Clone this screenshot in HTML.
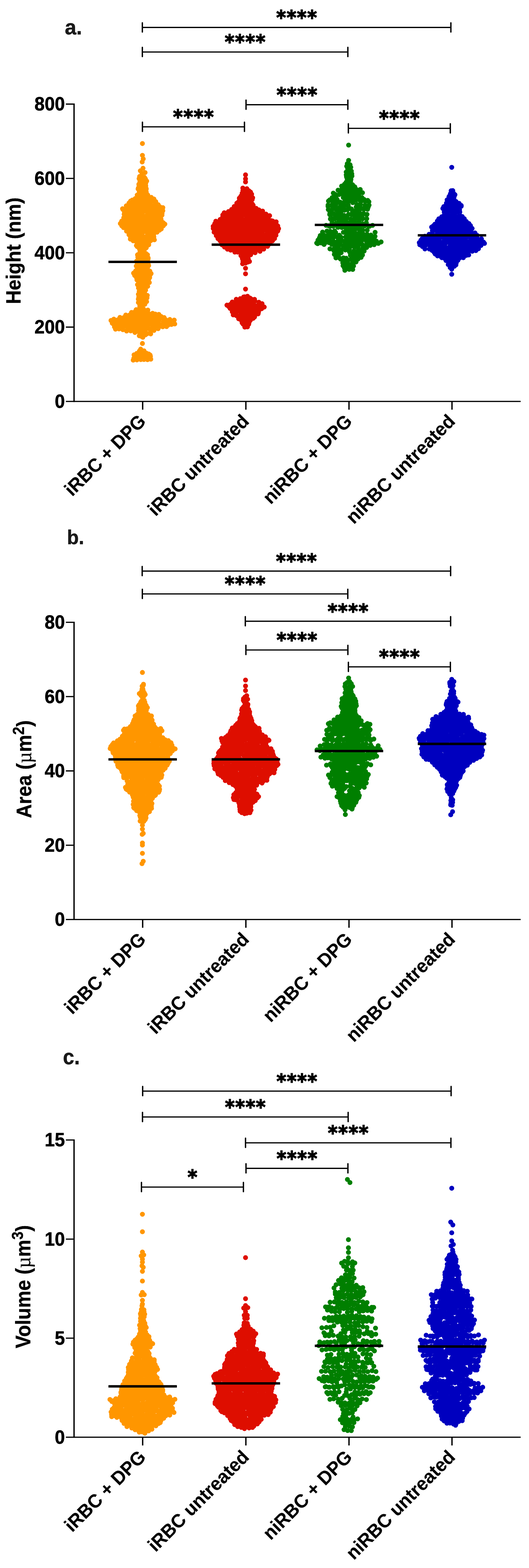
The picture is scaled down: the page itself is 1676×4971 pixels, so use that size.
<!DOCTYPE html><html><head><meta charset="utf-8"><title>Figure</title><style>html,body{margin:0;padding:0;background:#fff}svg{display:block}</style></head><body>
<svg width="1676" height="4971" viewBox="0 0 1676 4971">
<rect width="100%" height="100%" fill="#fff"/>
<path d="M451.2 455.1h0M451.2 492.5h0M453.8 503.8h0M450.5 513.5h0M453.1 533.4h0M444.7 541.5h0M459.6 547h0M449.9 549.5h0M451.2 1088.9h0M442.4 559.6h0M450.2 559.5h0M457.7 562.4h0M440.7 566.2h0M450.4 566.5h0M460.7 567.1h0M443.3 574.7h0M455.9 577.7h0M464.7 574h0M440 584h0M449.6 582.8h0M461.7 581.1h0M440.2 586.5h0M451.8 587.2h0M461.8 589h0M438.2 596.2h0M445.6 595.1h0M456.4 593.5h0M463.3 598h0M437.5 599.1h0M446 602.5h0M455.7 603.8h0M463.2 600.2h0M441.2 607.6h0M453.7 607.7h0M463.4 609h0M439.1 617.6h0M452.5 613.7h0M463.3 615.5h0M434.7 618.4h0M444 618.5h0M455.9 623.3h0M468.1 618.2h0M428.5 629.5h0M440.2 626.8h0M448.3 630.4h0M457.7 625.7h0M468.2 628h0M479.4 625.9h0M419.2 634.3h0M432.4 634h0M442.5 631h0M455.1 636.3h0M466.1 633.2h0M474.7 631.1h0M487.7 631.1h0M413.8 637.5h0M423.2 637.8h0M436.1 642.8h0M448.5 638.8h0M458.8 637.9h0M472.2 640.2h0M482.2 637.8h0M493.6 639.4h0M408.7 643.8h0M422.1 644.6h0M432 647.1h0M445.3 648.2h0M454 644.7h0M467.6 648.7h0M477.4 648.9h0M491.6 648.9h0M501.2 649h0M400.2 652.5h0M410.1 652h0M422.8 656.4h0M435.3 656.6h0M449.1 651.6h0M457.9 651.5h0M471.3 655.6h0M482.4 655.3h0M492.6 656.1h0M506 655.2h0M388.3 661.8h0M399.3 663h0M411.1 662.8h0M424 657.5h0M433.3 661.9h0M444.9 663h0M458.5 660.2h0M468 663h0M481.7 662.7h0M492.5 662h0M503.2 658.6h0M515.9 658.2h0M389.4 664h0M402.5 666.1h0M412.7 665.9h0M425.5 666.6h0M435.4 666h0M445.6 668.3h0M457 667.9h0M470 666.5h0M481.5 663.8h0M493.1 664.9h0M505.4 666.8h0M515.8 668.1h0M394.2 672.9h0M406.1 672.6h0M418.1 675.8h0M430.7 675.8h0M440.9 675.8h0M455.2 670.4h0M465.5 671.2h0M476 674.7h0M491.2 674.3h0M502.2 675.4h0M513.5 675.9h0M393.3 679.3h0M407.2 677.2h0M417 678.4h0M428 680.8h0M439.3 679h0M451.3 680.2h0M465.3 682.6h0M478.4 676.8h0M488.3 681.2h0M500.3 678.9h0M513.2 682.1h0M394.2 688.6h0M406 683.2h0M415.6 685.4h0M427.2 686.8h0M441.7 688.2h0M450.3 685.6h0M462.9 688.7h0M474.2 686.1h0M485.7 683.7h0M496.5 684.7h0M509.8 684.6h0M392 690.3h0M403.2 690.8h0M413.6 692.7h0M426.1 695.2h0M437.6 692h0M451 691.7h0M462.8 695.5h0M474 693.7h0M486.9 691.4h0M496.4 689.6h0M510 694h0M385.6 701.1h0M398.5 697.5h0M407.4 698.6h0M418.5 697.4h0M433.1 699.2h0M441.6 697.7h0M453.4 698.1h0M465.3 697h0M476.8 697.4h0M486.6 695.9h0M497.7 697.2h0M511 699.5h0M383 706.8h0M396.7 704.3h0M409.4 706.9h0M420.2 707.6h0M433.4 706.9h0M445.3 705.6h0M456.2 707.4h0M469.7 708h0M481.4 703.6h0M491 704.5h0M503.5 705.8h0M517.2 706.2h0M381.3 708.7h0M394.3 711.9h0M405 709.1h0M417.5 709.1h0M427.4 710h0M441 711.9h0M451.4 713.1h0M464.7 712.8h0M473.6 710.3h0M488.1 712.3h0M496.9 710.4h0M511.3 713h0M522.3 710.5h0M385.9 715.9h0M399.5 721.5h0M411.6 718.1h0M423 718.1h0M432.8 721.3h0M444.5 716.1h0M457.7 716h0M470.8 720.9h0M482.3 721h0M493.4 715.2h0M505.3 717.1h0M517.3 716.1h0M391.6 721.7h0M404.5 722.4h0M417.1 727.5h0M426.5 724.2h0M441.3 724h0M450.9 722h0M461.6 723.5h0M476.8 723.4h0M487.1 724.1h0M500.8 726.9h0M510.9 725.8h0M400.9 732.8h0M410.7 731.1h0M425.2 730h0M434 729h0M447.3 730.1h0M460 729.8h0M471.3 731.8h0M481.9 729.2h0M492.8 731.4h0M505.6 729.6h0M406.8 735.6h0M416.9 736.9h0M427.9 736.3h0M441.2 739.5h0M451.9 738.1h0M463.1 735.1h0M474.1 735.5h0M486.3 740.3h0M497.7 736.1h0M408.6 744h0M421.6 746.8h0M429 745.8h0M443.7 745h0M451.3 747.2h0M465.7 747.5h0M474.6 742.2h0M486.8 744.5h0M413.5 751.9h0M426.9 751.2h0M436.3 749.2h0M452.1 749.6h0M461.3 751.8h0M475.9 748.1h0M487.4 751.1h0M413 758.1h0M421.9 757.1h0M436.6 759.9h0M445.5 755.8h0M458.3 756.1h0M465.4 758.5h0M477.9 758.5h0M489.1 760.2h0M422.1 763.4h0M434 765.8h0M445.4 762h0M457.5 766h0M465.7 765.6h0M478 762.6h0M433.2 768.6h0M442.7 773.3h0M451.4 768.5h0M464.6 767.5h0M472.5 767.5h0M432.2 778.4h0M443.9 775.8h0M450.4 778.5h0M459.6 776.1h0M471.2 776.1h0M435 782h0M443.8 781h0M455.8 782.5h0M463.4 785.5h0M442.1 789.7h0M450 787.9h0M458.9 789h0M443.6 798.4h0M451 793.4h0M456.2 793.6h0M440.5 805.5h0M450.7 805.9h0M462.2 803.7h0M435.7 807.9h0M444.2 812.1h0M457.3 806.3h0M467.3 807.7h0M436.7 815.2h0M446.6 815.9h0M460.1 817.9h0M469.3 817.5h0M437.8 821.3h0M447.5 824.2h0M457.1 824h0M469.3 820.8h0M432.9 827.8h0M446.1 832.1h0M454.5 826.3h0M466.6 828.9h0M434.8 834.9h0M446.9 837h0M459.3 832.9h0M469.5 837.6h0M431.7 843.4h0M440.3 840.2h0M449.9 842.4h0M460.4 845.1h0M471 841.9h0M435.1 851.6h0M444.5 850.5h0M458.4 845.4h0M468.1 847.1h0M437.8 855.4h0M451.4 857.3h0M461.7 854.6h0M429.8 858.8h0M441.4 859.6h0M451.7 859.5h0M462.5 862.4h0M474.7 859.5h0M423.2 865.9h0M433.6 869.8h0M445.6 865.3h0M456.1 868.8h0M466 869.2h0M478.7 867.3h0M426.7 873.2h0M439.3 873.9h0M452.7 873.5h0M462.3 872.5h0M475.8 871.2h0M432.5 880.3h0M444.5 878.7h0M451.4 881.8h0M465.4 881.7h0M474.2 880.1h0M433.9 887.5h0M448 887.3h0M460 885.4h0M471.3 885h0M438 891h0M451.4 896.5h0M461.9 891.7h0M473.1 895.8h0M435.6 902.5h0M445.1 899.7h0M457.2 897.9h0M467.9 898.8h0M439.1 907.3h0M449.7 909.1h0M456.7 907.2h0M467.8 907.7h0M438.7 912.9h0M451.5 913h0M463.1 910.3h0M442.1 921.6h0M452.8 917.8h0M461.3 919.7h0M441 923.7h0M449.3 923.4h0M458 927.3h0M438.4 933h0M445.1 932.1h0M457.2 935.2h0M463.8 936.1h0M439.6 942.5h0M448.6 942.1h0M456.3 942.2h0M466.6 936.6h0M438.3 948.5h0M446.5 943.6h0M456.6 944h0M465.7 944.4h0M439.6 950.3h0M449.9 953.6h0M463 955h0M438.4 959.1h0M447.7 961.3h0M456 961.4h0M464.5 956.3h0M442.9 967.3h0M450 965.9h0M459 964.5h0M442.9 973.5h0M451 969h0M443.1 981.5h0M454.4 979h0M431.2 981.9h0M442.2 984.5h0M456 982.5h0M468.3 983.1h0M416.7 990.5h0M426.3 989.6h0M439.3 989.5h0M450.6 989h0M462.9 989.1h0M470.7 993.8h0M483.4 993.2h0M398.5 998.8h0M410.4 998.8h0M421.5 999.4h0M432.4 994.9h0M445.2 996.2h0M454.9 994.7h0M468.5 995.6h0M478.7 997.9h0M492.1 995.8h0M503.2 996.7h0M380 1006.2h0M392.6 1006.6h0M404.4 1006h0M414.9 1001.8h0M425.7 1003.3h0M439.4 1006.6h0M451 1004.7h0M461.5 1004.6h0M472.5 1007.4h0M484 1001.2h0M495.9 1006h0M510.3 1003.3h0M520.2 1006.9h0M360.7 1011.7h0M373.3 1014h0M384.2 1012.2h0M397.6 1012.4h0M408.3 1009h0M420.3 1013.6h0M430.2 1008.3h0M445.2 1008.6h0M453.4 1012.2h0M467.7 1012.4h0M477.2 1010h0M492.1 1013.4h0M500.9 1013.6h0M516.2 1009h0M524.7 1013.2h0M538.1 1012.9h0M351.7 1016h0M361.9 1019.1h0M374.1 1016.9h0M385.2 1016h0M399.7 1016.2h0M412.5 1019.7h0M422.9 1016.8h0M434 1016.4h0M446.8 1015.6h0M459.2 1019.5h0M468.2 1015.5h0M482.4 1014.2h0M493.1 1019.3h0M503.6 1016.4h0M518 1020.3h0M527.6 1018.7h0M540.2 1018.3h0M552 1014.7h0M355.7 1024.7h0M367.5 1023.2h0M382 1026.4h0M390.9 1022.4h0M406.8 1023.1h0M419.1 1023.6h0M430.1 1025.5h0M442.9 1022.8h0M453.3 1025h0M468 1023.5h0M480.5 1021.5h0M491.6 1022.2h0M502.9 1025.2h0M517.9 1021.7h0M527.8 1024h0M539.9 1021.9h0M553.6 1027h0M359.7 1027.8h0M371.5 1032.3h0M385.1 1028.4h0M396.9 1028.5h0M408.1 1029.7h0M422 1030.4h0M433.5 1028.1h0M445.7 1032h0M459.1 1030.9h0M470.7 1028.6h0M482.8 1032.2h0M494.9 1031.6h0M506.9 1029.2h0M519.1 1029.9h0M531.9 1031.2h0M543 1028.8h0M362.6 1036.3h0M375.1 1034.8h0M386.8 1036.2h0M397.9 1033.9h0M409.9 1038.7h0M423.3 1034.3h0M433.6 1038.3h0M445.2 1039h0M457 1039.8h0M467.6 1036.2h0M481.6 1040h0M491.7 1035.4h0M503.7 1036.4h0M515.6 1035.9h0M527.7 1035.4h0M365.9 1043.6h0M377.1 1042.7h0M389.3 1045.2h0M404 1043.2h0M415.3 1046.4h0M426.7 1045.5h0M440.9 1042.1h0M452.1 1045.6h0M463.6 1041.9h0M475.9 1042.9h0M487.5 1044.8h0M501 1042h0M401.1 1049.4h0M414.1 1049h0M427.6 1047h0M439.6 1051.7h0M449.3 1050.8h0M461.2 1052.8h0M476.2 1047.3h0M487.9 1047.6h0M427.5 1054.1h0M441.6 1054.2h0M454 1058.2h0M465.6 1058.3h0M477.4 1058.6h0M441.3 1064.5h0M450.8 1063.3h0M460.8 1061.4h0M448.2 1066.5h0M452.6 1069.2h0M445.7 1106.9h0M441.7 1112.9h0M449.2 1115.3h0M456.3 1112.3h0M433.1 1120.5h0M443.1 1120.3h0M452.8 1118.5h0M463.5 1119.5h0M471.1 1122.2h0M424.7 1125.1h0M436.3 1125.9h0M445.1 1124.2h0M454.8 1126.5h0M466.5 1128.2h0M475.4 1125.5h0M424.1 1135.7h0M435.2 1131.5h0M444.4 1133.2h0M456.1 1129.6h0M467 1132.9h0M476.6 1129.7h0M422.1 1141.8h0M433.7 1141h0M446 1139.9h0M456 1139.7h0M467.3 1140.2h0M477.7 1138.8h0" stroke="#ff9600" stroke-width="15.6" stroke-linecap="round" fill="none"/>
<path d="M777.9 554.2h0M777.9 567h0M777.9 576.7h0M777.9 850.6h0M777.9 868h0M777.9 916.6h0M769.3 596.3h0M776.9 600.3h0M782.3 598.4h0M769.5 604.2h0M778.4 604.6h0M788.9 605.3h0M767.2 612.7h0M774.2 614.3h0M785.2 612h0M793.8 609.1h0M763.1 621.9h0M774.4 616.2h0M786.4 616.5h0M797.2 615.7h0M758.3 628.3h0M767.2 622.9h0M777.4 623.6h0M790.9 622.4h0M800.5 627.1h0M758.4 629.1h0M769 631.5h0M780.4 634.8h0M789.6 628.6h0M798.9 632.8h0M755.6 639.8h0M764 638.2h0M773.2 638.8h0M784.4 636h0M794.3 640.2h0M750.2 644.3h0M762.1 647.7h0M776 643.5h0M785.5 646.1h0M799.6 646.9h0M746.8 653.5h0M758.3 650.8h0M770.4 652.5h0M780.3 653.3h0M790.1 649.8h0M802 650.8h0M742.1 654.8h0M755 660.2h0M765.5 660.1h0M778.1 660.5h0M787.8 658.1h0M801.2 659.4h0M811.5 660.6h0M733.9 664.1h0M745.1 665.9h0M759.8 661.6h0M772.2 662.6h0M783.6 666.8h0M795.7 664.9h0M806.7 662.2h0M820.3 665.6h0M723.6 670.9h0M734.3 674h0M747.2 671.7h0M760.9 671.4h0M771.2 667.7h0M782 673.2h0M795.8 669.3h0M809.1 673.7h0M821.1 673.8h0M832 669.2h0M710.4 674.6h0M720.6 679.7h0M734.2 680h0M744.7 676.6h0M756.9 675.7h0M770.7 680.3h0M783.2 677h0M793.2 680.5h0M805.4 675.7h0M818 679.9h0M831.9 679.2h0M842.6 678.7h0M705.9 681.5h0M719.3 684.9h0M729.8 685.5h0M741.4 682.2h0M753.8 681.6h0M766.6 685h0M778.1 681.8h0M790.5 682h0M806.5 686.3h0M815.6 681.2h0M831.1 684.6h0M841.6 685.9h0M854.1 683.7h0M705.8 687.4h0M718.7 688h0M731.3 689.7h0M740.5 692.5h0M753.2 690.2h0M765.2 687.8h0M779.9 692.9h0M790.6 690.2h0M801.1 688.4h0M813.5 693.5h0M827.7 688.9h0M839.6 691.8h0M850.1 689h0M697.5 695.8h0M708.5 699h0M722.5 696.4h0M736.5 697.3h0M745.9 698.6h0M760.6 694.1h0M770.6 696.8h0M783.8 697.5h0M798 697.3h0M808.4 698.3h0M821.7 693.9h0M835.8 699h0M848.5 693.7h0M859.5 699.5h0M683.7 701.3h0M697 701.1h0M707.1 700.1h0M719.7 703.4h0M730 705.4h0M744.9 704.7h0M755 700.4h0M768.9 703.3h0M779.4 703.5h0M789.4 701.5h0M802 701.7h0M816.5 700.7h0M827.9 700.2h0M839.5 703.4h0M851.9 705.7h0M863.9 700.8h0M875 703.3h0M680.3 709.2h0M691.1 712.1h0M703.3 711.4h0M715.6 712.6h0M728.7 712h0M741.4 712.7h0M754.7 708.1h0M765.1 712.9h0M779.2 711.8h0M791.6 709.9h0M804.2 708.2h0M814.3 708.9h0M826.9 709.4h0M839 707.5h0M853.1 712.6h0M864 712.3h0M875.6 712.3h0M675.5 717.5h0M686.6 719.1h0M700 716.4h0M711.3 714.9h0M722.8 713.8h0M736 716.4h0M746.7 716.5h0M758.3 713.9h0M770.9 714.9h0M782.7 716.6h0M797.1 716.8h0M808.4 717.7h0M819.7 717h0M831.7 714.6h0M842.8 715.5h0M856.3 715.3h0M869.4 716.7h0M880 716.2h0M675.7 724.6h0M686.5 725.2h0M699.8 722.1h0M712 720.3h0M723.3 724.4h0M735.2 721.8h0M749.4 725.1h0M762.2 724.4h0M774 722.6h0M786.4 725.5h0M795.9 719.6h0M810.6 722.8h0M823.6 722.3h0M835.1 723.5h0M845.6 722.5h0M859.2 722.1h0M870.7 721.6h0M882.6 724.7h0M679.7 727.2h0M691.4 729.8h0M704.9 732h0M716.4 731.5h0M731.4 728.8h0M743.6 726.4h0M754.7 732h0M768 732.5h0M779.4 730.5h0M791.3 729.9h0M803.7 730.4h0M816.8 728.5h0M828.8 729.8h0M843.1 729.2h0M853.8 732.5h0M865.9 731.4h0M879 727.2h0M678.4 735.9h0M688.7 737h0M703.4 738.3h0M713.7 734.4h0M725.9 733.8h0M736.5 736.5h0M749 736.7h0M759.6 737.7h0M772.5 732.6h0M784.4 736.4h0M797.7 735.8h0M809.1 736.8h0M820.8 736.3h0M832.2 733.6h0M845.5 733.2h0M854.9 737.9h0M868.6 733h0M880 732.6h0M684.4 741.3h0M694.9 739.7h0M709.7 741.3h0M719.8 739.4h0M733.4 745.3h0M743.5 740.7h0M753.8 744.6h0M766.7 744.4h0M778.6 745.3h0M791.2 740.6h0M802.7 740.5h0M814.2 742.2h0M828 740.2h0M838.1 745.4h0M849.7 739.8h0M862.6 741.7h0M874.3 739.5h0M685.2 747.1h0M695.8 747.1h0M706.9 747.8h0M719.2 746.2h0M731.5 746.4h0M744 750.8h0M754.7 750.2h0M767.4 746.9h0M781.5 747h0M791.3 750.1h0M802.3 749.4h0M814.6 749.5h0M825.8 746.3h0M838.8 747.3h0M851.6 749.8h0M862.6 748.1h0M874.2 746.1h0M690.5 756.4h0M700.9 754.4h0M714.5 752.5h0M725.7 752.9h0M739.2 754.7h0M752 757.8h0M763.7 753.8h0M772.4 756.4h0M785.6 756.3h0M798.9 757.6h0M809.5 753.2h0M820.5 756.8h0M834.9 752.3h0M844.6 754h0M857.5 754.1h0M869.9 756.2h0M697.1 763.2h0M708 763h0M720.2 764h0M733.8 758.8h0M746 758.9h0M755.4 763.7h0M767.2 763.4h0M778.5 761.1h0M793.1 760.4h0M802.3 761.3h0M817.5 763.4h0M829 761.5h0M837.8 761.3h0M851.5 759.4h0M863.3 763.5h0M700.9 766.7h0M713.1 769.2h0M725.1 765.4h0M736.4 766.4h0M748.2 769.6h0M761.6 766.6h0M773 771.1h0M784.4 770.8h0M795.6 767.2h0M810.3 770h0M819.7 768.9h0M832.9 770.5h0M843.5 767.4h0M857.1 766.4h0M703.3 776.1h0M715.3 773.7h0M727.7 772.6h0M738.3 778h0M753.3 776.2h0M766.5 772.3h0M776.8 772.8h0M789.3 777.5h0M802 777.6h0M814.3 773.1h0M824.5 776.6h0M839.5 772.8h0M850.4 775.7h0M711.3 783.2h0M725.1 780.2h0M734.9 780.1h0M748 780.5h0M762.2 778.3h0M773.5 783.4h0M786.5 784.2h0M798 779.1h0M809.6 778.6h0M823.6 780.9h0M837.1 778.3h0M847.6 780.9h0M720.6 790h0M733.5 787.3h0M742.7 787.9h0M754.7 787.4h0M767.2 790.4h0M776.7 787.4h0M789.7 785.8h0M799.3 787.5h0M814.3 790.2h0M825.8 788.6h0M835.4 789.8h0M731 793h0M742.9 794.2h0M754.8 793.3h0M767.3 792.3h0M778.1 791.6h0M789.6 794.8h0M800.2 794.7h0M811.7 792.2h0M823.7 796.8h0M744 799.2h0M753.1 799.2h0M765.4 799h0M776.5 800.9h0M787.3 800.2h0M795.9 803.2h0M808.4 801.1h0M763.3 810.5h0M774.4 809.4h0M783.3 810.3h0M794 807.7h0M770.1 810.9h0M776.8 810.6h0M785.7 814.4h0M767.9 819.8h0M778.8 822.7h0M786.6 820.7h0M769.8 828.4h0M779.4 828h0M790.4 828.9h0M768.6 836.2h0M777.9 834h0M785.5 830.7h0M774.7 941h0M784.1 939.3h0M761.2 946.9h0M771.9 941.6h0M780.3 942.7h0M792.2 945.1h0M748.5 948.9h0M761.6 952.4h0M772.9 948h0M782.6 951.2h0M796.3 948.2h0M806.4 949.1h0M735.9 957.5h0M746.6 957h0M761.4 954.9h0M771.3 960.3h0M784.4 955.6h0M795.5 958.2h0M807.6 954.5h0M820.1 958.2h0M719 967.4h0M729.6 965.3h0M742.8 964.2h0M755.1 964.4h0M770.3 961.2h0M781.1 966.6h0M794.3 965.1h0M805 966.1h0M819.4 965.4h0M830.3 962.9h0M724.3 971.6h0M735 970.1h0M745.1 969.6h0M760.1 969.8h0M768.4 969.7h0M779.2 973.1h0M791.8 971.1h0M802.5 967.9h0M813.7 972.2h0M826 969.7h0M837.1 973.4h0M729.1 977.7h0M743.5 979h0M753.7 974.4h0M766.4 975.7h0M778 975h0M790.5 975.4h0M803.5 977.9h0M817.8 975.2h0M828.8 978.7h0M738.1 985.7h0M751.3 981.3h0M760.3 986.1h0M773.8 981.8h0M784.3 984.7h0M796.3 982.6h0M806.6 980.7h0M820.1 984.5h0M735.9 988.6h0M747.6 993h0M759.8 987.3h0M771.8 989.1h0M781.6 987.9h0M796.1 992.2h0M806.6 990.8h0M818.8 990.6h0M738.9 998.3h0M749.2 998.4h0M762.5 998.5h0M774.6 995.3h0M784.1 994.3h0M793.3 997.7h0M807.6 999.9h0M817.8 994.9h0M749.1 1000.8h0M758.8 1003.6h0M770.8 1002.3h0M782.1 1004.7h0M796.6 1000.1h0M806.4 1005h0M756 1010.6h0M766.9 1009.4h0M778.4 1007.2h0M791.6 1010.6h0M802.2 1009.1h0M764.7 1015.6h0M775.8 1017h0M782.4 1014.7h0M792.9 1015.8h0M767.1 1023.6h0M777.2 1020.9h0M788.8 1023.2h0M770.4 1027.7h0M780.2 1027.8h0M787.9 1028.1h0M775.6 1036.9h0M784 1036.3h0" stroke="#de0e00" stroke-width="15.6" stroke-linecap="round" fill="none"/>
<path d="M1104.5 460h0M1104.5 508.6h0M1100.3 519.1h0M1109 522.4h0M1098.4 527h0M1111.3 530.4h0M1101.5 534.5h0M1109.6 538.8h0M1096.9 545.6h0M1103.8 545.4h0M1113.1 542.4h0M1097 554.5h0M1114.6 551.2h0M1097.8 560.4h0M1105.6 558.5h0M1115 558h0M1099.7 566.6h0M1111.8 568.5h0M1096.8 577.4h0M1102.8 576.5h0M1110.9 574.5h0M1091.5 584h0M1103.5 586.4h0M1117.2 585.9h0M1082.3 590h0M1091.4 591.9h0M1103.4 590.1h0M1114.2 592.6h0M1124.1 592.4h0M1071 603.1h0M1082.4 600.8h0M1095.8 600.1h0M1105.9 603h0M1116.4 602.8h0M1128.8 600.5h0M1141.3 600.7h0M1056 612.3h0M1079.7 609.8h0M1090.8 611h0M1100.7 610.3h0M1113.8 611.1h0M1124.5 610.3h0M1136.5 609.3h0M1148.4 611h0M1062 616.4h0M1074.5 616.7h0M1086.1 616.3h0M1099.9 616.4h0M1110.8 618.6h0M1124.2 616.3h0M1136.5 617.3h0M1052.5 626.6h0M1064.7 627.7h0M1087.5 626.2h0M1098.5 623.3h0M1110.2 626.1h0M1123.2 623h0M1134.6 626.7h0M1146.7 626.5h0M1044.9 633.7h0M1057.4 634.5h0M1068.1 632.8h0M1092 630.4h0M1103.9 631.4h0M1116.4 634.3h0M1127.7 634.7h0M1140 635h0M1153.3 632.2h0M1164.9 635.2h0M1040.7 637.4h0M1054 638.1h0M1066 641.6h0M1078.2 641.1h0M1091.5 639.5h0M1103.4 639.9h0M1117.6 642.4h0M1143.4 639.3h0M1156.9 638.6h0M1168.7 639.8h0M1039.3 650.3h0M1052.8 648.1h0M1063.9 648.8h0M1079.1 646.6h0M1090.4 650.1h0M1103.1 649.8h0M1130.8 648.4h0M1141.9 648.1h0M1156.4 650.2h0M1169.2 650.5h0M1039.3 654.3h0M1053.4 655.5h0M1064.1 658.4h0M1077.6 656.1h0M1088.8 658.3h0M1103.8 655.3h0M1128.4 656.4h0M1141 655.9h0M1154.6 658.8h0M1166.4 657h0M1040.2 664.5h0M1052.8 663.6h0M1065.9 665.7h0M1078.3 664.3h0M1091.2 666.4h0M1100.9 665.2h0M1113.3 662.4h0M1127.4 666.7h0M1139.7 664.6h0M1152.5 663.7h0M1164.4 663.5h0M1045.3 675.6h0M1055.8 677h0M1070.1 674.8h0M1079.8 674.2h0M1116.8 671.4h0M1127.7 673.6h0M1138.2 673.2h0M1152 677.1h0M1162.7 679.5h0M1044.5 679.9h0M1055.3 677.6h0M1067.8 679.7h0M1080.1 681.9h0M1090.2 682.9h0M1104.3 679.5h0M1114.2 680.4h0M1127.7 680.2h0M1139.2 680.2h0M1148.6 678.6h0M1161.5 681.1h0M1048.3 690.5h0M1061.1 690.3h0M1074.8 687.5h0M1085.5 687.7h0M1099.3 690h0M1123.9 689.3h0M1137.2 689.7h0M1147.5 689h0M1161.5 693.6h0M1046.8 694.3h0M1060.1 693.9h0M1073.7 697.8h0M1086.3 694.6h0M1096.7 694.6h0M1110.7 694.6h0M1123.4 696.5h0M1136.3 694.5h0M1148.8 693.7h0M1161.8 693.6h0M1051.9 705.8h0M1065.3 708h0M1076.3 704.3h0M1088.9 703.7h0M1098.8 704.7h0M1111.7 702.5h0M1124.6 705.4h0M1137.3 703.5h0M1147.7 709.1h0M1160.6 705.9h0M1041.3 715.9h0M1055.2 717.2h0M1065.8 713.7h0M1079.9 711.9h0M1093.8 710.9h0M1105.6 711h0M1118.2 715h0M1133.4 713.2h0M1144.9 716.1h0M1158.6 713.8h0M1170.8 717.3h0M1033.1 714.5h0M1044.9 717.8h0M1058.2 715.6h0M1070.9 720.8h0M1082.9 721.3h0M1094.7 721.9h0M1107.6 719.5h0M1120.4 722.5h0M1130.1 721.2h0M1142.8 717.5h0M1154.9 716.2h0M1168.1 716.5h0M1180.4 714.5h0M1021.9 735.9h0M1036.1 732.5h0M1046.3 733.4h0M1059.9 732.1h0M1097.6 728.1h0M1111.9 727.7h0M1123.5 730.5h0M1137.6 727.4h0M1149.3 730h0M1163.3 729.8h0M1188.4 736.6h0M1014.7 746.8h0M1026.2 745.3h0M1040.6 741.9h0M1053.2 742.3h0M1063.3 736.9h0M1088 736.5h0M1102.3 735.8h0M1112.5 738.5h0M1126.2 739.5h0M1139.7 736.5h0M1151.3 742.4h0M1162.9 742.7h0M1175.3 745.4h0M1188.1 749.5h0M1012.2 753.7h0M1025.6 753h0M1036.8 752.3h0M1050 745.8h0M1061.2 748.9h0M1075.3 745.8h0M1098.5 745.2h0M1110.6 743.7h0M1123.7 747.8h0M1136.4 747.5h0M1148 749.2h0M1161.3 748.8h0M1173.3 754.4h0M1185.5 755.2h0M1007.4 761.2h0M1020.4 759.2h0M1030.7 757.7h0M1045.8 754.5h0M1056.1 753.3h0M1068.5 751.7h0M1080.7 752.4h0M1095.1 751h0M1107.3 754.3h0M1118.8 752h0M1129.7 753.4h0M1143.3 756h0M1154.8 758.2h0M1167.9 758.7h0M1179.4 757.8h0M1192.5 764.5h0M1006.3 772.4h0M1032.1 768.4h0M1044.5 763.3h0M1057 765.7h0M1070.8 763.3h0M1082.9 762.3h0M1095.6 762.1h0M1108.4 762.4h0M1121.8 761.9h0M1135.7 761.3h0M1146 763.2h0M1161.2 765.8h0M1172.7 766.3h0M1186.9 772.2h0M1198.6 771.8h0M1003.4 770.5h0M1017.3 770.1h0M1029.3 766.7h0M1042.2 769.1h0M1067.4 767.4h0M1079 766.5h0M1093.2 770h0M1105 766.4h0M1119.2 766h0M1131.3 767.4h0M1142.3 768.8h0M1170.2 767.1h0M1182.3 767.7h0M1194.9 770h0M1207.4 767.1h0M1026.8 774.9h0M1051.2 774.7h0M1063.8 777.1h0M1075.3 777.1h0M1087 779h0M1100.9 775.7h0M1113.7 776.4h0M1123.3 777.4h0M1137.2 775.8h0M1147.9 775.6h0M1160.1 776.9h0M1173 778.1h0M1185.4 775.7h0M1045.3 789h0M1058.9 787.9h0M1071.7 783h0M1098 785.2h0M1109.1 782.8h0M1123.1 783.8h0M1134.2 784.4h0M1149.7 785.7h0M1161.4 784.7h0M1057.6 794.1h0M1071.6 794.8h0M1082.6 791h0M1094.1 792.6h0M1107 790.1h0M1121.6 795.1h0M1134.4 794.6h0M1145.6 793.6h0M1058.6 795.4h0M1069.6 798.3h0M1080.9 801.2h0M1107.3 798.4h0M1117.5 802.3h0M1129.8 798.4h0M1141 798.5h0M1153.6 795.9h0M1059.3 806.4h0M1072.3 808.6h0M1110.1 809.3h0M1123.6 808.9h0M1136.3 805.7h0M1148.4 808.6h0M1064.2 817.6h0M1074.8 817.2h0M1087.9 817.5h0M1097 818.8h0M1119.8 818.4h0M1131.7 818h0M1144 815.9h0M1079 821.2h0M1090.8 826.6h0M1101.7 826h0M1111.1 822.5h0M1124.1 826.2h0M1134.2 821.2h0M1086 833h0M1096.8 834.1h0M1117.6 832.1h0M1128 830.5h0M1086.8 842.3h0M1097.8 841.3h0M1108.1 838.6h0M1120.1 843.2h0M1091.1 849.5h0M1103 846.5h0M1112.8 847.7h0M1092.6 856.9h0M1106.5 854h0M1117.5 854.2h0" stroke="#007f00" stroke-width="15.6" stroke-linecap="round" fill="none"/>
<path d="M1431.2 530.6h0M1431.2 869.5h0M1429.4 604.8h0M1434.5 604.4h0M1427.2 613.9h0M1437 612.7h0M1425.5 619.1h0M1431.6 620h0M1441.4 617.3h0M1422.5 623.8h0M1431.5 622.9h0M1438.9 623.2h0M1416.6 633.8h0M1428.4 632.4h0M1438.9 632.9h0M1417.1 635.6h0M1426 635.5h0M1437.2 636.1h0M1444.9 639h0M1414.4 643.9h0M1422.9 642.5h0M1435 643.9h0M1446.3 643.9h0M1454.5 644.7h0M1410.6 652.9h0M1421.5 647.5h0M1429.7 652.8h0M1439 651.6h0M1453 649.8h0M1461.2 651.4h0M1406.1 655.1h0M1416.1 657.9h0M1427 659.7h0M1439.7 657.7h0M1450.6 655.4h0M1461.2 653.9h0M1403.1 660.9h0M1412.2 666.3h0M1425 665h0M1433.6 661.9h0M1445.1 662.8h0M1456 664.7h0M1407.4 671.9h0M1417.8 667.9h0M1433.5 670.8h0M1443.5 667.7h0M1456.8 672.3h0M1408.8 677.2h0M1418.9 673.6h0M1433.6 677.2h0M1443.3 673.4h0M1454.4 673h0M1407.6 681.8h0M1420.6 684.6h0M1430.8 682.8h0M1442.3 684.6h0M1456 681.3h0M1399.5 687.2h0M1409.2 688.3h0M1421.7 691.6h0M1430.2 691.4h0M1441.7 688.8h0M1452.1 690.6h0M1464.4 686.6h0M1390.2 693.9h0M1401.5 692.9h0M1412.7 698.5h0M1425 693.9h0M1437.3 698.1h0M1449.7 693.2h0M1461.1 694h0M1470.9 693.6h0M1385.7 700.7h0M1398.9 703.7h0M1406.9 701h0M1418.9 701.3h0M1430 702.1h0M1441.7 703.2h0M1454.5 702h0M1466.9 700.5h0M1477.4 702.2h0M1377.8 710.7h0M1391.6 711h0M1401.2 706.6h0M1412.6 711.3h0M1424 705.7h0M1437.4 706.7h0M1450.6 711.6h0M1461.2 705.5h0M1475.4 708.6h0M1485.6 708.8h0M1373 716h0M1383.6 713.3h0M1398.5 713.4h0M1410.1 714.6h0M1419.4 712.1h0M1431.3 717.3h0M1441.6 713.6h0M1455.2 716.6h0M1465.7 712.7h0M1480.7 712.8h0M1490.6 715.3h0M1367.5 720h0M1377.9 721.4h0M1390.5 722.8h0M1404 720.2h0M1416 718.8h0M1427.5 718.6h0M1436.7 724.7h0M1450.6 721.9h0M1462.2 722.7h0M1472.5 720h0M1484.8 723.7h0M1495.8 724.3h0M1370 730.8h0M1382.5 729.4h0M1393.4 727.3h0M1406.7 725.4h0M1419.7 728h0M1431.6 725h0M1443 729.6h0M1455.9 731.2h0M1468.6 727.7h0M1481.5 727.6h0M1491.8 731.2h0M1370.4 733.8h0M1383.1 732.3h0M1393.5 733.2h0M1404.8 734.1h0M1418.5 735.2h0M1432.6 733.8h0M1443.8 732.6h0M1455 735.8h0M1465.8 737.7h0M1480.3 735.6h0M1491.4 735.6h0M1359.4 742.9h0M1370.8 743.3h0M1384.1 743.6h0M1396.1 738h0M1408.1 739.7h0M1418.3 739.1h0M1432.9 739.4h0M1443.3 744.4h0M1454.5 744h0M1470.4 740.1h0M1480.7 740.7h0M1492.6 738.3h0M1504.8 738.5h0M1346 749h0M1356.8 749.2h0M1369 745.7h0M1383.1 744.8h0M1391.9 747h0M1405.9 749.6h0M1418.1 748.3h0M1427.5 749.7h0M1441.7 745.1h0M1453 745.3h0M1463 745.2h0M1476.6 746.1h0M1487.5 749.2h0M1497.8 745.9h0M1511.5 746.3h0M1337.4 756.8h0M1347.9 755.3h0M1359.9 752.4h0M1373.7 755.6h0M1386.2 753h0M1395.3 751.3h0M1408.3 751.3h0M1419.6 757h0M1432.8 752.2h0M1441.5 754.3h0M1454.2 754.4h0M1467.6 751.4h0M1477.8 752.6h0M1490.7 753h0M1501.6 756h0M1513 757h0M1525.2 757h0M1333.7 761.6h0M1344.8 763.8h0M1359.3 760.5h0M1370.1 757.9h0M1382.6 760.3h0M1391.9 758.1h0M1407.4 759.3h0M1418.6 758.1h0M1427.7 760.9h0M1442.8 758.6h0M1454.5 759.6h0M1463.9 763.8h0M1475.8 762.3h0M1490.9 760.5h0M1503.1 759.3h0M1513.1 762.2h0M1525.2 758.3h0M1328.4 769.2h0M1339.7 765.6h0M1352.2 764.9h0M1365.7 765.1h0M1377.2 765.2h0M1387.9 769.6h0M1400.5 768.9h0M1412.6 770.1h0M1423.4 769.3h0M1435.1 766.4h0M1447.4 764.7h0M1458.9 766.6h0M1472.5 768.9h0M1482.9 769.2h0M1497.8 768.9h0M1509.1 768.2h0M1519.3 764.8h0M1531.7 767.5h0M1330 775.9h0M1343.5 771.4h0M1355.9 774.9h0M1366.8 776.1h0M1378.4 772.7h0M1391.4 776.1h0M1401.2 772.1h0M1412.8 770.6h0M1427.6 770.9h0M1436.8 771.7h0M1450.4 775.7h0M1464.4 774.6h0M1476.2 776.3h0M1487.7 776.1h0M1499.1 774.3h0M1512.1 773.6h0M1522.6 774.8h0M1534.9 771.8h0M1338.3 781.5h0M1349.1 777.2h0M1363.4 781.6h0M1375.1 780.4h0M1389 779.3h0M1399 782.2h0M1411.4 783.4h0M1424.6 781.6h0M1438.9 778.9h0M1448.9 778.2h0M1462.2 781.3h0M1472.9 783.4h0M1487 778.1h0M1500.7 781.9h0M1512.9 783h0M1523.8 778.3h0M1346.3 789.3h0M1360.3 789.5h0M1370.8 787.6h0M1383.9 787.4h0M1393.8 786.2h0M1406.9 784.1h0M1417 788.1h0M1432.1 785.1h0M1443.3 787.4h0M1457 787.3h0M1468.3 788.1h0M1480.4 788.9h0M1493.4 789.6h0M1503.6 783.9h0M1515.9 788.6h0M1369.1 794.1h0M1382.6 794.9h0M1391.2 791h0M1403.4 791.9h0M1413.9 790.5h0M1425.6 793.2h0M1437.1 792.8h0M1451.8 796.1h0M1461.3 793.8h0M1471.6 790.4h0M1485.3 792.6h0M1495.5 792.2h0M1507.6 794.4h0M1375.8 800.2h0M1385.9 801.2h0M1399.3 802.4h0M1411.5 798.4h0M1424.2 801.2h0M1437.8 798.8h0M1449.4 800.3h0M1460.8 802.6h0M1472.3 797.6h0M1482.6 801.7h0M1496.2 796.6h0M1378.8 805.3h0M1392.1 806.4h0M1404.1 806h0M1413.5 806.9h0M1427.1 805.4h0M1437.3 808.9h0M1449.7 805.1h0M1462.7 807.4h0M1471.3 803.3h0M1485 808.2h0M1386.2 811.2h0M1398.5 815.4h0M1410.8 815.4h0M1418.7 812.3h0M1430.5 815h0M1442.7 815.1h0M1455.5 815.8h0M1464.1 810.3h0M1477.3 809.6h0M1400 817h0M1410 820.3h0M1424.5 822.3h0M1433.7 817.6h0M1444.2 822.4h0M1457.4 817.1h0M1467.9 816.9h0M1413.1 825.9h0M1423.3 825.3h0M1433.2 825.4h0M1442.9 824.6h0M1450.9 825h0M1422.2 832.6h0M1432.4 831.4h0M1445.5 833.4h0M1420.1 838.8h0M1430.3 838.1h0M1444.4 839.8h0M1426.2 848.2h0M1434.7 845.9h0M1439.6 844h0M1431.1 853.6h0" stroke="#0000bf" stroke-width="15.6" stroke-linecap="round" fill="none"/>
<path d="M451.2 2131.9h0M451.2 2616.1h0M451.2 2628.4h0M450.5 2645.1h0M453.8 2641.9h0M451.2 2672.5h0M451.2 2678.9h0M451.2 2705.3h0M453.8 2730.5h0M449.9 2737.9h0M454.5 2169.2h0M450.3 2175.2h0M454.2 2172.3h0M452.4 2183.7h0M449.8 2185.2h0M453.6 2189.2h0M447.7 2193.5h0M457.2 2196.8h0M441.4 2199h0M449.1 2200.1h0M460 2202h0M446.2 2204.4h0M456 2207h0M451.5 2212.1h0M447.6 2223.2h0M456.6 2219.5h0M445.7 2226.2h0M453.8 2229.4h0M459 2226.3h0M440.9 2234.2h0M449.4 2233.3h0M461.4 2234.6h0M438.5 2237.9h0M452.1 2239.4h0M463.2 2236.8h0M439.4 2245.8h0M448.5 2247.5h0M457.1 2244h0M466.9 2243.6h0M439 2252.5h0M450.6 2255.3h0M463.6 2252.3h0M440 2257.2h0M453.3 2262.1h0M463.4 2260.8h0M434.8 2265.1h0M444.8 2267.5h0M458.7 2263.8h0M469.6 2265.3h0M428.1 2269.8h0M439.2 2271.4h0M447.5 2271.8h0M459.1 2271.1h0M469.6 2272.6h0M479.7 2269.8h0M425.2 2281.6h0M434.8 2281.5h0M446.9 2277.3h0M456.5 2276.1h0M468.6 2278.9h0M480.6 2281.4h0M423.3 2285.9h0M435.2 2286.1h0M446.1 2283.7h0M460.3 2288.1h0M468.4 2285.3h0M481.9 2283.1h0M421.1 2292.6h0M434 2294.7h0M446.2 2288.3h0M455.9 2294.5h0M469.2 2288.3h0M482.1 2291h0M419.8 2294.8h0M429.7 2300.2h0M440.4 2296.5h0M454.7 2296.9h0M466.1 2299.3h0M473.6 2301.1h0M486.5 2295.5h0M413.1 2303.6h0M424.7 2307.7h0M437 2305.5h0M444.7 2304.8h0M456.4 2302.9h0M466.6 2302.2h0M479.3 2302.3h0M490 2304.5h0M394.4 2311.3h0M403.9 2310.5h0M416.2 2309.3h0M430.1 2308.4h0M440.1 2309.9h0M452.8 2312.1h0M464.5 2311h0M476.3 2308.9h0M484.4 2309.9h0M495.9 2310.5h0M509 2309.8h0M391.2 2315.3h0M402.7 2320.2h0M416.4 2315.3h0M426 2319.8h0M440.6 2318.3h0M450.4 2316.4h0M462.8 2318.9h0M476.6 2318.6h0M488.5 2314.8h0M502.6 2315.7h0M513.1 2316.8h0M393.6 2327.2h0M405.3 2325.1h0M417.1 2325.2h0M430.3 2321.2h0M443.1 2326.7h0M453.6 2323.9h0M466.3 2324h0M481.1 2326.8h0M493.4 2321.7h0M504.5 2323.9h0M394.6 2331h0M408.8 2331.9h0M420.5 2329.3h0M429.9 2331.9h0M443.4 2329.6h0M457.3 2333.6h0M468.5 2327.8h0M482.1 2331.4h0M492.1 2331.9h0M505.9 2328h0M387.7 2334h0M398.7 2340.2h0M410.2 2338.9h0M424 2340.1h0M434.8 2337.4h0M444.6 2336.9h0M456.8 2337.1h0M469.4 2335.6h0M480.7 2336.5h0M493 2337.2h0M503.1 2338.3h0M515.6 2338.8h0M380 2343.6h0M391.4 2342.9h0M404.7 2343.4h0M416.7 2343.2h0M427.2 2342.6h0M440.7 2341.6h0M450.5 2344.5h0M464.2 2344.8h0M474.5 2342.6h0M485.5 2343.7h0M500 2345.5h0M510.2 2341h0M523.2 2345.4h0M372.1 2348.5h0M384.4 2352.6h0M398.3 2349.6h0M409 2353.1h0M420.4 2348.6h0M435.8 2348.9h0M447.9 2349.5h0M457.7 2349.2h0M469.8 2349.6h0M483.3 2348.4h0M494.2 2349.2h0M506.5 2351.7h0M520.2 2350.8h0M533.3 2348h0M360.1 2355.2h0M371 2359.2h0M383.3 2357h0M395.7 2355.4h0M409.1 2356.6h0M419.2 2355.3h0M432.5 2359.1h0M443.4 2354.8h0M458.5 2357.1h0M468.7 2358.4h0M482.5 2358.3h0M493.3 2353.6h0M505.1 2357.3h0M518.8 2356.8h0M529.3 2353.9h0M541.9 2354.9h0M356.3 2360.3h0M367.9 2359.8h0M378.2 2362.1h0M391.4 2361.6h0M404.2 2366.1h0M413.9 2363h0M426.5 2361.1h0M440.3 2361.9h0M451 2361.6h0M460.7 2362.2h0M472.6 2363.2h0M485.2 2365.2h0M497 2366h0M508.9 2360.8h0M521.9 2362.7h0M532.6 2364.9h0M544.8 2362.7h0M351.4 2366.4h0M362.6 2370.7h0M376.8 2369.3h0M387.2 2370.4h0M401.6 2370.4h0M411.7 2367.4h0M425.6 2369.8h0M436.4 2370.3h0M448.8 2370.7h0M462.8 2371.3h0M475.2 2369.1h0M488.6 2371.1h0M499.1 2372.6h0M513.3 2366.9h0M524.8 2372.3h0M538.6 2368h0M549 2371.7h0M349.1 2372.9h0M362.8 2378.1h0M374.1 2378.4h0M384.2 2375h0M395.6 2373.2h0M407.9 2373.5h0M420.4 2374.6h0M435.5 2378.4h0M447.9 2377.9h0M457.2 2378h0M471.1 2373.3h0M484 2376.7h0M495.8 2377.3h0M506.3 2375.7h0M517.3 2374.6h0M531.6 2374.4h0M543.6 2374.2h0M554.9 2374.2h0M357.5 2382.5h0M367.4 2384.1h0M382.6 2380.6h0M392.3 2383.5h0M404.3 2380.3h0M418.1 2382.5h0M429.4 2383.9h0M439.5 2379.9h0M450.9 2382.4h0M463.1 2380.7h0M475.2 2384.4h0M486.2 2382.8h0M499.4 2380.1h0M511.9 2384.9h0M523.7 2384.5h0M534.1 2385.4h0M546.2 2380.5h0M358.4 2386.7h0M369.4 2388.3h0M381.2 2389.5h0M393.4 2389.2h0M406.5 2391.2h0M416.9 2387h0M429 2389.5h0M443.1 2390.8h0M454.2 2387.2h0M467.4 2388.2h0M479 2389.9h0M492 2389.3h0M504.2 2391.2h0M516.8 2387.4h0M525.7 2386.3h0M539.5 2388.9h0M364.7 2394.7h0M377.8 2393h0M387.4 2394.4h0M398.9 2397.3h0M414.3 2392.5h0M425.3 2398.3h0M435.8 2392.7h0M449.9 2395.1h0M459.8 2397.7h0M471.8 2394.9h0M485.4 2396.5h0M496 2396h0M506.7 2397.9h0M517.9 2398h0M531.5 2398.6h0M365.6 2404.2h0M377.4 2400.7h0M390.2 2400.1h0M401.8 2403h0M411.3 2400.9h0M425.5 2399.6h0M437.7 2403.9h0M448.1 2404h0M459.2 2399.2h0M474.4 2403.5h0M484 2401.3h0M496.5 2399.5h0M508.5 2405h0M519.8 2400.2h0M532.2 2405h0M367.6 2407.8h0M380.6 2406h0M389.6 2410.9h0M402.1 2410.2h0M414.3 2408.6h0M426.8 2411.1h0M437.9 2408h0M449 2411.2h0M461.9 2409.9h0M472.8 2406h0M485.7 2405.4h0M497.9 2408.3h0M508.3 2406.7h0M520.5 2406.5h0M534 2408.6h0M367.3 2413.4h0M378.4 2412.1h0M392.5 2417.9h0M403.3 2417.4h0M414.1 2416.3h0M428.2 2413.6h0M439.9 2414.6h0M451.1 2413.7h0M463.2 2412.3h0M477.4 2413.2h0M486.7 2415h0M501.2 2414.4h0M514 2418.1h0M526.1 2417.9h0M536.6 2413.4h0M372.6 2424.7h0M385.4 2421.9h0M395.5 2419.4h0M408.5 2419.5h0M421.6 2418.9h0M434.7 2421.3h0M447 2418.5h0M457.4 2420.8h0M470.7 2422.8h0M484.2 2420.9h0M495.8 2419.5h0M509.7 2423.3h0M522.1 2423.7h0M532.5 2419.8h0M374.2 2430.2h0M387.7 2429.9h0M398 2427.1h0M411.3 2430.2h0M422.7 2425.8h0M434.3 2426.9h0M444.4 2429.4h0M456.8 2426.9h0M471.3 2426.5h0M481.4 2427.6h0M493.3 2430.3h0M505.3 2431h0M516.7 2424.9h0M529.7 2425.4h0M378.3 2432.9h0M389.5 2433.7h0M404.4 2432.1h0M416 2435.9h0M427.9 2434.8h0M440 2434.8h0M449.9 2432.5h0M463.8 2436.3h0M475.5 2437.2h0M488.4 2433.4h0M500.9 2431.9h0M510.6 2437.3h0M523.4 2435.4h0M384.6 2440.6h0M396.5 2439.8h0M407.1 2443h0M419.7 2443.6h0M431.2 2441h0M444.1 2444.2h0M456.6 2441.9h0M467.5 2438.9h0M479.2 2437.9h0M492.8 2444h0M504.6 2442.8h0M517 2441.6h0M386.9 2446.8h0M399.8 2446.3h0M412 2445.6h0M423.3 2444.9h0M434.6 2449.7h0M449.5 2449.7h0M461.4 2444.3h0M472.9 2448.3h0M484 2446.7h0M498.1 2444.9h0M510.5 2449h0M392 2454.6h0M405.6 2455.7h0M414.3 2455.1h0M427.3 2456.1h0M441.9 2454.5h0M451.9 2455.7h0M464.9 2454.3h0M478.2 2456.7h0M488.8 2450.9h0M500.5 2455.5h0M512.7 2457h0M391.7 2460.7h0M404.5 2457.3h0M414.9 2457.6h0M428.8 2461.5h0M440.8 2459.7h0M450.4 2460.7h0M463.9 2461.1h0M477.3 2463.4h0M486.4 2459.8h0M498.8 2458.4h0M511.3 2460.9h0M392.1 2465.5h0M403.9 2464.8h0M417.2 2467.3h0M429.4 2465.9h0M438.2 2465.7h0M452.3 2464.5h0M464.6 2464.7h0M476.6 2465.2h0M488.9 2465.2h0M497.1 2469.1h0M510.9 2464.4h0M402.6 2475.7h0M416.8 2475.7h0M428.9 2474.7h0M440.3 2473.9h0M451 2473.8h0M462.8 2476h0M475.5 2474.6h0M487.4 2475.2h0M501.2 2472.2h0M408.5 2479.8h0M421.6 2477.4h0M431.5 2477.8h0M442.2 2477.3h0M456.4 2478.4h0M468.2 2479.4h0M479.2 2479h0M491.2 2478.3h0M404.7 2486.7h0M417.5 2485.8h0M427.8 2488.1h0M439.4 2485.1h0M454 2486.4h0M464 2489.4h0M476.3 2488.9h0M487.5 2483.9h0M500.4 2486.5h0M397.4 2496.2h0M409.3 2495.2h0M422.9 2490.6h0M433.8 2495.8h0M445.8 2493.1h0M456.3 2492.8h0M470.7 2495.8h0M480.9 2490.7h0M494.6 2495.4h0M504.9 2492.4h0M399.6 2501.6h0M410.8 2497.6h0M424.1 2498.9h0M433.7 2501h0M445.1 2497.7h0M458 2500h0M471.8 2500.4h0M481.5 2496.7h0M493.9 2499.2h0M505.6 2502.6h0M403.3 2503.9h0M416.3 2506.3h0M425.5 2504.8h0M437.1 2509.1h0M448.6 2503.1h0M458.3 2507.8h0M472.5 2507.8h0M482 2506.2h0M491.6 2507.1h0M504.7 2507.2h0M410.6 2511.2h0M420.4 2513.5h0M432.5 2512.4h0M443.2 2513.3h0M455.7 2510.8h0M466.8 2514.6h0M479.4 2511.5h0M492.3 2513.5h0M502.5 2511.8h0M419.6 2520.1h0M431.9 2516.4h0M443.3 2521.2h0M454.2 2521.4h0M469.4 2517.7h0M479.4 2517.7h0M492.6 2520.5h0M422 2527.6h0M435.3 2528.7h0M442.7 2522.4h0M456.2 2527.3h0M466.6 2527.3h0M478.9 2525.4h0M490.1 2522.5h0M424.7 2528.8h0M435.3 2533.7h0M448.5 2533.5h0M460.3 2532.2h0M471.6 2530h0M482.9 2530.8h0M423.1 2540h0M434.5 2540h0M443.7 2536.2h0M454.7 2538.6h0M466.5 2541.3h0M478.5 2537.1h0M424.6 2543.4h0M437.8 2541.8h0M446.6 2543h0M458.4 2541.9h0M471.3 2541.8h0M481.3 2547.6h0M421.9 2550.6h0M431.8 2549.9h0M445.1 2550.2h0M456.3 2553h0M467 2553.4h0M479 2551.9h0M423.7 2560.5h0M435.3 2560.8h0M447.6 2559.3h0M456.2 2560.2h0M467.8 2559.1h0M479.6 2556h0M425.7 2562.5h0M437.4 2563h0M445.9 2564.7h0M457 2561.9h0M469.7 2562.1h0M480 2562.7h0M432.9 2569.9h0M442.7 2570h0M455.1 2569.1h0M463.5 2568.5h0M473.5 2573.3h0M441.9 2574.9h0M455.3 2579.3h0M465.1 2579h0M443 2585.6h0M450.6 2583.2h0M461.9 2586h0M444.6 2590.8h0M451.7 2587.8h0M462.5 2592.8h0M446 2599.9h0M454.9 2598.3h0M460.1 2598.5h0M444 2603.1h0M455.7 2604.1h0" stroke="#ff9600" stroke-width="15.6" stroke-linecap="round" fill="none"/>
<path d="M777.9 2156.1h0M777.9 2174.8h0M777.9 2189.3h0M776 2209.8h0M781.5 2205.5h0M771.4 2215.1h0M780.9 2211.6h0M771.1 2220.5h0M776.3 2222.9h0M784.5 2216.8h0M773.3 2223.9h0M781.3 2229.4h0M776 2234.3h0M785.4 2233h0M771.3 2241.5h0M776.5 2239h0M784.5 2238h0M767.1 2246.5h0M779.1 2246.1h0M788 2249.2h0M765.6 2251.3h0M774.7 2249.5h0M786.8 2255.2h0M766.9 2260.5h0M780 2260.5h0M790.9 2257.1h0M765.2 2263.3h0M773 2267.5h0M784 2263.6h0M790.5 2262.9h0M762.5 2273.8h0M772.7 2274.7h0M783.3 2272.6h0M792.8 2272h0M760.1 2278h0M771.6 2278.9h0M783.1 2278h0M795.4 2277.7h0M759.2 2286.4h0M768.4 2285.6h0M777.9 2281.8h0M789.6 2283.6h0M797.7 2284.8h0M752.1 2293.7h0M762.9 2292.8h0M777 2290.8h0M786.5 2293.9h0M799.4 2293.8h0M746.8 2299.4h0M758 2295.1h0M770.4 2300h0M781.4 2300.5h0M793.8 2295.4h0M803.4 2298.6h0M741.9 2306h0M751.6 2303.5h0M764.6 2304.1h0M776.8 2305.9h0M786.1 2307.4h0M797.3 2302h0M809.1 2303.9h0M735.9 2308h0M746.5 2308.9h0M759.4 2313.6h0M772.3 2311.6h0M783.5 2308.8h0M795.5 2313.7h0M807.3 2308.6h0M820.7 2309.1h0M731.3 2316.9h0M742.5 2319.3h0M755.6 2320.2h0M764.3 2317.7h0M777.4 2316h0M786.6 2316.6h0M800.2 2317.7h0M809.6 2316.4h0M822.1 2318.7h0M729 2323.6h0M739 2322.1h0M753.8 2322.9h0M763.2 2322.6h0M775.3 2325.9h0M788.4 2325h0M797.8 2321.8h0M810.1 2326.1h0M822.8 2324.6h0M721.3 2332.1h0M732.9 2333.6h0M744.8 2328h0M758.6 2333h0M769.4 2328.5h0M783.6 2331.4h0M795.4 2329h0M805.2 2327.5h0M819.5 2328.5h0M831.3 2330.1h0M714.5 2337.8h0M726.6 2334.9h0M739 2334.9h0M748 2336.8h0M760.8 2339.6h0M771.9 2339.2h0M781.6 2334.7h0M795.5 2334.6h0M805.8 2338.2h0M816.5 2338.9h0M829.2 2338h0M841.1 2335.8h0M701.5 2341.1h0M713.4 2343.8h0M725.9 2340.8h0M738 2345.9h0M752.8 2343.7h0M764.7 2341h0M775 2345.9h0M787.7 2343.7h0M799.2 2345.4h0M814.4 2342.3h0M824.2 2344.8h0M837.6 2341.2h0M850.5 2345.7h0M703.3 2348.8h0M715.8 2352.5h0M727.5 2349.4h0M742 2350.4h0M752.4 2352.5h0M766.5 2347.3h0M776.5 2347h0M791.4 2350.4h0M802.7 2350.4h0M813.3 2347.4h0M825.9 2350.9h0M840.9 2352.8h0M852.1 2347.1h0M705.7 2354.2h0M718.3 2354.3h0M730.7 2358.1h0M742.7 2355.1h0M757.4 2357.7h0M767.3 2356.4h0M781.7 2359h0M793.7 2356.9h0M806.7 2359.5h0M815.9 2357.9h0M830.3 2354.2h0M842.8 2355.4h0M711.7 2366.2h0M724.1 2360.6h0M733.7 2361.8h0M746.3 2360.3h0M760.8 2363.4h0M770.8 2363.7h0M782.3 2366h0M795.7 2360.2h0M805.1 2360.6h0M818.2 2365.2h0M832.2 2361.2h0M842.2 2359.9h0M705 2368.2h0M717.5 2370.1h0M727.8 2370.7h0M741.2 2369.3h0M751.3 2369.3h0M764.4 2371.8h0M777.2 2371.6h0M787.4 2368h0M800.2 2367h0M809 2368.5h0M823.2 2371.7h0M833.9 2368.4h0M846.3 2368.2h0M700 2378.1h0M710.5 2377.5h0M726.3 2373.4h0M736.1 2376.2h0M750.6 2372.9h0M762.8 2376.4h0M772.6 2378.8h0M787.1 2374.4h0M798.8 2375.5h0M811.5 2375.1h0M822.3 2377.4h0M834.7 2378.7h0M844.6 2375h0M858.5 2373.7h0M695.5 2382.2h0M708.6 2385.3h0M719.6 2382.6h0M733.3 2383.6h0M744.7 2382.9h0M756.7 2384.8h0M765.4 2383h0M777.9 2382.1h0M790 2383.1h0M803 2379.9h0M816.1 2380.9h0M828.4 2385h0M837.9 2384.2h0M851.5 2379.4h0M863.1 2382.1h0M692.3 2387.1h0M702.9 2386.4h0M715.8 2392.2h0M728.5 2388.8h0M740.1 2390.3h0M753.1 2386.9h0M764.5 2388.7h0M780 2390.6h0M791.3 2386.6h0M803.4 2388.8h0M815.1 2389.7h0M827.2 2388.8h0M840 2392.2h0M852.3 2387.2h0M864.4 2389.8h0M690.9 2398.7h0M702.2 2395.1h0M714.9 2393.6h0M725.3 2392.7h0M736.9 2397.1h0M749.8 2396.6h0M759 2392.5h0M772.4 2395.7h0M784.9 2397.8h0M795.7 2394.6h0M808.2 2394h0M820.5 2393.9h0M830.4 2395.5h0M840.9 2396.2h0M855.7 2397.3h0M866.1 2394.8h0M686.3 2405.2h0M700.3 2403.5h0M711.7 2399h0M724.5 2402.8h0M734.7 2404.7h0M747.8 2401h0M759.4 2405.1h0M773.9 2398.8h0M784.2 2403.5h0M798.1 2403.9h0M807.6 2399.4h0M822.7 2402.1h0M832.6 2399.5h0M845.2 2405.1h0M857.9 2404h0M870.5 2402.5h0M685 2411.5h0M695.2 2406.7h0M708.1 2411.7h0M719 2406.1h0M734.7 2409.8h0M744.7 2407.4h0M756.2 2409.8h0M770 2410.8h0M781.3 2407.9h0M792.5 2405.9h0M803.4 2405.6h0M817 2409.3h0M826.9 2410.6h0M840.4 2408.9h0M851.4 2406.2h0M865.2 2411.3h0M875.7 2406.4h0M678 2413.7h0M690.6 2417.7h0M703.3 2415.6h0M716.6 2411.8h0M729.9 2412.6h0M738.9 2416h0M751.5 2415h0M763.5 2414.2h0M776.8 2413.4h0M789.4 2414.4h0M802.4 2411.9h0M816.8 2415h0M826 2417.6h0M840.3 2417.1h0M854.5 2415h0M865.7 2413.8h0M878 2415.8h0M677.5 2420.7h0M687.8 2423.7h0M702.9 2418.7h0M714.5 2420.5h0M724.2 2423.6h0M738.6 2424.3h0M748.3 2422.6h0M760.1 2418.9h0M774.3 2419.1h0M784.2 2422.4h0M797.2 2423.1h0M807.9 2419.4h0M819.9 2418.8h0M832.3 2422.5h0M843.2 2422.1h0M856.9 2418.9h0M869 2418.8h0M880.7 2423.3h0M678.3 2427h0M692.4 2427.5h0M703.2 2431.2h0M716.6 2429.4h0M728.4 2431.1h0M741.3 2428.4h0M752.5 2429.8h0M764 2427.9h0M777.2 2429.5h0M791.9 2429.9h0M801.4 2428h0M816.5 2427.1h0M825.3 2428.2h0M838.8 2427.9h0M850.3 2427.6h0M863.8 2428.2h0M876.8 2427.3h0M680.6 2437.6h0M691.6 2433.3h0M705.4 2436.4h0M714.3 2432.6h0M727.7 2433.8h0M742 2435h0M753.9 2435.1h0M765.2 2431.5h0M777.7 2435h0M786 2433.7h0M800.2 2437.2h0M811 2437.1h0M822.4 2434.4h0M837.3 2432.6h0M848.5 2433.9h0M860.3 2436.4h0M871.1 2432h0M687.1 2440.8h0M700.9 2439.4h0M710.2 2438.1h0M722.5 2441.5h0M737.5 2440.9h0M748.2 2439.5h0M762.2 2441.1h0M773.2 2443.9h0M785.3 2443.4h0M795.9 2438.6h0M809.5 2440.7h0M821.5 2442.4h0M834 2443.2h0M847.9 2444.2h0M856.6 2440.7h0M870.6 2439.4h0M689.7 2447.5h0M703.5 2447.2h0M712 2447.6h0M726.6 2446.1h0M739.3 2448.2h0M747.6 2447h0M762.9 2450h0M772 2444.8h0M783.3 2450.6h0M796.3 2444.5h0M808.9 2444.9h0M821 2446.4h0M833.9 2445h0M842.9 2446h0M857 2450.5h0M868.3 2449.9h0M691.4 2453.8h0M705 2451.5h0M713.4 2454.7h0M726.7 2450.8h0M735.8 2452.5h0M748.5 2451.5h0M762.2 2454.4h0M773 2454.7h0M784.7 2454.1h0M794.3 2455h0M805.8 2452.4h0M820.2 2453.1h0M832.5 2452.3h0M842.5 2453.1h0M853.9 2453.6h0M699.1 2458.4h0M711.8 2460.3h0M724.7 2460.5h0M735.5 2462.6h0M748.5 2459.1h0M760 2460.7h0M772.3 2460.5h0M785.2 2462.7h0M799.8 2458.9h0M808.9 2457.4h0M824.4 2459.4h0M835.1 2458.3h0M847.7 2459.6h0M706.6 2464.4h0M717.1 2464h0M730.4 2469.8h0M741.7 2466.8h0M753.2 2466.8h0M766.5 2463.8h0M775.8 2467.8h0M788.1 2469.8h0M800.8 2463.9h0M812.1 2468h0M823 2466.7h0M836 2464h0M846.3 2464.6h0M713.7 2474.8h0M727.4 2474.4h0M738.9 2473.3h0M750.9 2471.2h0M763.1 2470.3h0M771.8 2476.5h0M786 2470.9h0M797.8 2472.4h0M808.1 2470.6h0M822.1 2476.1h0M834.5 2475.9h0M845.4 2473.8h0M726.2 2481.3h0M736.5 2480.3h0M750.9 2478.9h0M761.5 2479.7h0M771.5 2481.4h0M782.9 2479.9h0M796.2 2478.5h0M809 2481.8h0M817.9 2479.9h0M830.2 2482.4h0M737.8 2487.3h0M748.5 2486.6h0M758.1 2484.1h0M769.3 2486.9h0M780.9 2486.5h0M791.1 2483.4h0M801.8 2489.7h0M813.1 2489.2h0M745.4 2491.6h0M758.7 2493.7h0M770.5 2495.2h0M781.7 2495.2h0M792.7 2492.1h0M805.7 2490.3h0M751 2499.8h0M763.6 2498.6h0M773.9 2499.5h0M783.2 2500.6h0M794.6 2502.1h0M806.2 2502.6h0M752.1 2505.1h0M760.7 2509h0M773.9 2504.5h0M784.9 2508.2h0M794.9 2508.9h0M803.9 2506.9h0M747.2 2512.7h0M760.9 2511.4h0M769.7 2513.5h0M784.5 2509.7h0M797.7 2512.3h0M808.3 2515.6h0M740.9 2519.4h0M754.1 2520.7h0M767.2 2520.9h0M779.3 2519.3h0M791 2519.8h0M802.6 2517.9h0M814.2 2517.9h0M739.3 2528.7h0M748.9 2524.4h0M760.4 2524.6h0M773.1 2525.7h0M785.5 2525.2h0M798.2 2525.7h0M807.7 2523.2h0M819.2 2525.5h0M741.2 2534.8h0M752.1 2529h0M766.5 2530.4h0M777.9 2531.6h0M790.3 2532.1h0M802.1 2530h0M815.3 2529.6h0M746.7 2535.5h0M759.8 2541.3h0M770.7 2537.3h0M784.1 2539.6h0M796 2537.1h0M808.7 2538.2h0M756.5 2544.5h0M766.1 2542.7h0M777.8 2546.1h0M789.7 2543.3h0M801.6 2543.3h0M758.8 2552h0M769.8 2552.6h0M782.5 2552.5h0M794.7 2551.1h0M758.9 2557.2h0M771.4 2559.8h0M784.2 2557.2h0M794.7 2558.1h0M760.2 2565.7h0M771.1 2567.5h0M783.5 2566.7h0M792.9 2561.4h0M760.7 2571.8h0M772.7 2570.5h0M782.3 2569.5h0M795.3 2568.5h0M765.7 2576.2h0M774.8 2579.6h0M782 2577.9h0M791.9 2576.4h0" stroke="#de0e00" stroke-width="15.6" stroke-linecap="round" fill="none"/>
<path d="M1104.5 2149.6h0M1094.2 2582.3h0M1100.1 2163.5h0M1107.5 2160.4h0M1094 2168.1h0M1112.9 2167.4h0M1092.8 2176.6h0M1106.4 2177.2h0M1117.2 2176.3h0M1095.6 2184.9h0M1103 2182.8h0M1111.3 2186.6h0M1098 2192.2h0M1112.5 2193.1h0M1093.3 2196.8h0M1103.5 2200h0M1115.7 2201.7h0M1092.4 2208.9h0M1101.2 2204.6h0M1111.1 2205.4h0M1119 2206.2h0M1083.9 2215h0M1093.1 2214.9h0M1104.9 2213.4h0M1114.9 2216.3h0M1124.5 2215.7h0M1084.7 2223.6h0M1096.7 2221h0M1106.8 2223.6h0M1117.4 2221.3h0M1127.1 2223h0M1082.9 2227.7h0M1092.7 2227.6h0M1106.5 2231.3h0M1115.9 2230.8h0M1128 2230.9h0M1080.9 2239.2h0M1093 2236.7h0M1104.8 2235h0M1117.7 2238.2h0M1129.1 2237.2h0M1083 2244h0M1094.5 2242.7h0M1104.6 2244.3h0M1115.4 2243.4h0M1124.8 2243.9h0M1087 2253.5h0M1099.2 2250.5h0M1112 2251.2h0M1124.5 2252.5h0M1085 2258.9h0M1095.1 2258.1h0M1103.6 2257.7h0M1115.9 2257.3h0M1124.7 2258.8h0M1081.3 2268.6h0M1092.9 2267.3h0M1103.8 2267.6h0M1115.5 2265.9h0M1128.6 2267.8h0M1069.6 2273.2h0M1079.9 2276.1h0M1090.8 2273.4h0M1103.3 2274.7h0M1115.4 2273.3h0M1126.3 2274.5h0M1137.2 2274.9h0M1058.2 2282.2h0M1069.9 2285.4h0M1082.4 2280h0M1096.5 2279.6h0M1108.2 2283.2h0M1118.3 2281.5h0M1130.8 2282.1h0M1144.4 2285.1h0M1046.1 2291.6h0M1059.1 2292h0M1069.7 2289.9h0M1080.6 2290.6h0M1092.7 2289.9h0M1106 2291.1h0M1116.8 2288.2h0M1129.2 2291.1h0M1140.6 2289.8h0M1164 2293.9h0M1040.3 2294.4h0M1052.2 2293.2h0M1064.3 2296.4h0M1075.5 2295h0M1089.4 2298.6h0M1100.9 2297.2h0M1110.7 2297.5h0M1123 2296.7h0M1136.7 2298.4h0M1148.5 2297.5h0M1161.3 2296.3h0M1172.1 2296.3h0M1044.2 2307.3h0M1057.5 2306.8h0M1070.2 2308.3h0M1082.8 2306.2h0M1094.4 2304.5h0M1106.3 2303.2h0M1119.7 2305.6h0M1131.6 2305.5h0M1155.7 2305.6h0M1168.3 2308.4h0M1040.3 2313.9h0M1052.9 2316.5h0M1063 2313.1h0M1075.4 2313h0M1087.8 2309.7h0M1098.3 2313.6h0M1110 2312.8h0M1121.6 2311.3h0M1134.3 2314.5h0M1146.9 2314.7h0M1157.3 2313.9h0M1169.5 2317.4h0M1035 2315.3h0M1057.8 2319.6h0M1068.3 2319.8h0M1080.3 2321.4h0M1092.7 2321.7h0M1103.1 2318.4h0M1115.1 2320.1h0M1127.9 2317.3h0M1139.7 2318.4h0M1150.8 2318.1h0M1162.1 2317.5h0M1172.7 2313.3h0M1035.7 2327.9h0M1047.7 2328.4h0M1061.2 2326.4h0M1071.2 2329h0M1085.5 2326.3h0M1097.6 2329.3h0M1110 2324.8h0M1119.9 2324.6h0M1132.1 2328.1h0M1143.9 2326.6h0M1155.8 2325.9h0M1169.2 2329.9h0M1039.1 2339.9h0M1052 2338.4h0M1077.9 2337h0M1100.2 2332.6h0M1114.3 2333.2h0M1126.2 2336.9h0M1139.1 2336.4h0M1149.9 2338.1h0M1163.6 2338.2h0M1033.2 2346.1h0M1044.2 2343.3h0M1055.2 2345.7h0M1069.1 2342.9h0M1080.4 2342.1h0M1091.9 2343.9h0M1103.7 2342.8h0M1114.2 2341.1h0M1126.6 2341.3h0M1140.3 2342.4h0M1151.2 2342h0M1162.7 2344.1h0M1174 2347.8h0M1028.2 2344h0M1040 2344.2h0M1052.9 2348.2h0M1065.1 2346.8h0M1074.8 2347.5h0M1087.3 2347.1h0M1100.8 2348.1h0M1112.9 2347h0M1125.3 2350.9h0M1135.7 2349.4h0M1147.3 2348.3h0M1160.5 2345h0M1172.1 2342.7h0M1184.4 2342.9h0M1014.3 2365.1h0M1027.3 2360.5h0M1037.4 2358.6h0M1050.1 2361.5h0M1064.2 2360.7h0M1074.6 2357.1h0M1088.8 2358.6h0M1100.2 2356.1h0M1111 2358h0M1124.6 2355.7h0M1136.2 2359.4h0M1149.7 2359.5h0M1160 2358h0M1174.5 2361.5h0M1198.2 2364.3h0M1004.4 2377.2h0M1016.5 2373.5h0M1030.6 2370.3h0M1042.6 2366.2h0M1054.5 2366.3h0M1066.5 2365h0M1080 2364.8h0M1092.8 2364.6h0M1104.9 2363.8h0M1115.7 2365.1h0M1129.6 2363.2h0M1141.8 2367.9h0M1154.6 2367.5h0M1167.3 2371.2h0M1179.3 2369h0M1190.3 2373.6h0M1204 2376h0M1013.6 2379.7h0M1026.9 2378.4h0M1036.3 2376h0M1048.6 2375.4h0M1063.1 2373.4h0M1075 2374.6h0M1087.5 2370.7h0M1097.3 2371.5h0M1111.1 2372.2h0M1123.9 2373h0M1133.1 2370.2h0M1145.6 2371.4h0M1158.3 2374.5h0M1169.5 2376.4h0M1182.8 2377.1h0M1195.2 2378.3h0M1029.8 2371.4h0M1041.6 2376.6h0M1051.9 2375.8h0M1066.1 2378.3h0M1075.5 2378.6h0M1087.5 2377h0M1099.2 2378.9h0M1111.1 2380.9h0M1123.4 2380.1h0M1133.4 2376.2h0M1145 2377h0M1170.3 2377.3h0M1180.7 2375.8h0M1039.3 2393h0M1064.5 2390.8h0M1074.8 2388.4h0M1088.4 2385.8h0M1100.5 2385.7h0M1113.4 2387.8h0M1124.5 2387.2h0M1135.8 2387h0M1148.1 2388.7h0M1162.4 2393.3h0M1173.5 2395.2h0M1032.2 2390.3h0M1043.9 2389h0M1057 2392.1h0M1069 2395.8h0M1080.6 2396.2h0M1093.3 2392.8h0M1106.3 2395.7h0M1118.9 2395.2h0M1130 2393.7h0M1140.7 2395.8h0M1153.8 2392.2h0M1165.1 2390.1h0M1178.6 2388.6h0M1024.4 2392.6h0M1036.3 2393.9h0M1046.3 2396.4h0M1059 2397.6h0M1072.2 2401.6h0M1082.8 2402.8h0M1093.3 2399.2h0M1106.1 2404.2h0M1119.1 2401.6h0M1128.3 2401.2h0M1140.2 2397.8h0M1151.9 2401.1h0M1163.4 2398.2h0M1175.7 2392h0M1187.8 2390.2h0M1016.6 2400.3h0M1029.5 2403.7h0M1038.8 2402.4h0M1050.8 2406.8h0M1063.9 2406.2h0M1074.2 2409.5h0M1087.2 2411.4h0M1098.2 2407.8h0M1111.2 2409.4h0M1123.4 2408h0M1134.9 2406h0M1146.1 2408.5h0M1157.7 2406.7h0M1171.1 2404.3h0M1182.9 2400.8h0M1193.3 2397.5h0M1034.5 2425.7h0M1046.7 2422h0M1058.6 2418.4h0M1068.3 2418.4h0M1080.1 2416.5h0M1092.1 2417.7h0M1105.3 2416.6h0M1116 2416.4h0M1128.7 2416.7h0M1140.1 2416.2h0M1151.7 2419.1h0M1164.3 2420.9h0M1174.5 2424.8h0M1049.2 2428.1h0M1060.8 2427.1h0M1073.8 2423.4h0M1086.5 2425.8h0M1098 2422h0M1123.1 2423.5h0M1146.2 2428.6h0M1159.9 2426.3h0M1053.1 2433.9h0M1065 2433h0M1077.4 2433.6h0M1087.1 2433.4h0M1100.6 2431.4h0M1110.8 2429.7h0M1122.4 2433h0M1133.3 2433.2h0M1144.9 2434.1h0M1156.8 2431.6h0M1056.2 2440.8h0M1067.7 2441.6h0M1079.4 2440.1h0M1093.2 2437.2h0M1104.2 2437.4h0M1118.1 2439.4h0M1127.3 2439.1h0M1141.3 2440.8h0M1152.9 2440.8h0M1052.1 2448.3h0M1064.3 2447.8h0M1075.6 2449.1h0M1087 2445.6h0M1112 2446.7h0M1122.8 2445.6h0M1135.2 2444.7h0M1145.7 2445.9h0M1158.2 2446h0M1045.4 2461.8h0M1056.1 2456.1h0M1068.8 2457.1h0M1082 2452.8h0M1091.5 2452.8h0M1104.2 2455.5h0M1117.6 2454.3h0M1128.5 2455.8h0M1141 2454.5h0M1150.7 2458.5h0M1163.5 2460.7h0M1040.7 2457h0M1053.1 2455.5h0M1064.4 2460.1h0M1074.7 2462.2h0M1088 2460.1h0M1099.5 2461.6h0M1109 2464.3h0M1120.9 2461h0M1132.2 2463h0M1144.7 2461h0M1156.6 2457.8h0M1166.9 2455.3h0M1045.2 2465.3h0M1058.3 2470.6h0M1067 2470.2h0M1080.6 2469.1h0M1090.5 2470.6h0M1103.3 2470.9h0M1115 2469.3h0M1127.4 2468.3h0M1139.2 2469.7h0M1149.6 2470.6h0M1161.6 2469.2h0M1051.5 2476.8h0M1061.7 2478.7h0M1073.4 2477.1h0M1087.9 2477.9h0M1098.8 2475h0M1110.7 2478h0M1120.5 2476.9h0M1132.6 2476.5h0M1146.1 2478.9h0M1156.3 2478.4h0M1048.6 2483.7h0M1061.2 2482.7h0M1073.9 2485.5h0M1085.8 2486.8h0M1111.8 2485.1h0M1124 2483.7h0M1136.9 2485.1h0M1148.8 2483.2h0M1160.2 2482.5h0M1052.9 2492.5h0M1065.6 2493.8h0M1075.8 2494.1h0M1087.8 2492.2h0M1097 2493.7h0M1109.5 2492.6h0M1131.2 2491.2h0M1143 2492.4h0M1154.1 2495.9h0M1068 2499.7h0M1078.3 2500.1h0M1091.5 2499.7h0M1116 2499.1h0M1127.4 2500.4h0M1137.8 2497.9h0M1074.2 2508.7h0M1084.5 2506h0M1107.3 2507h0M1121.2 2505.9h0M1131.3 2506.5h0M1072.3 2513.2h0M1083.5 2515.7h0M1110.3 2516.6h0M1122.9 2514.2h0M1134.8 2512.7h0M1067.9 2525.5h0M1080.4 2522.9h0M1091.4 2522h0M1102.9 2520.9h0M1114.6 2524.4h0M1126.2 2522.1h0M1138.4 2522h0M1073.6 2528.3h0M1083.4 2530.3h0M1093.5 2527.7h0M1105.6 2528h0M1114.9 2528.4h0M1127.4 2530.4h0M1136.8 2527.9h0M1078.4 2539.1h0M1087.6 2535.3h0M1100.2 2536.8h0M1108.1 2537h0M1120.7 2538.1h0M1130.2 2535.6h0M1079.9 2545.8h0M1092.5 2543.5h0M1102.4 2545.8h0M1114.5 2545.2h0M1127.5 2543.4h0M1082.5 2554.3h0M1091.6 2552.5h0M1101.6 2552.9h0M1112.4 2552.1h0M1121 2552.7h0M1087.4 2559.3h0M1095.9 2559.7h0M1107.2 2560h0M1116 2561.7h0M1093.2 2567.4h0M1115.3 2565h0" stroke="#007f00" stroke-width="15.6" stroke-linecap="round" fill="none"/>
<path d="M1431.2 2153.8h0M1433.8 2573.3h0M1428 2583h0M1424.9 2163.3h0M1429.5 2161.9h0M1438 2160.8h0M1425.2 2167.8h0M1434.5 2169.8h0M1426.5 2175.4h0M1435.7 2173.7h0M1433.2 2184.7h0M1429.5 2190.9h0M1437.5 2192.1h0M1430.3 2196.1h0M1437.3 2198.3h0M1427 2200.6h0M1436.7 2200.2h0M1429 2212.1h0M1439.8 2210.2h0M1424.2 2214.1h0M1434.9 2218.6h0M1442.1 2214h0M1416.2 2223.9h0M1427.8 2224.2h0M1438.3 2222.4h0M1449.7 2224.9h0M1414.3 2230h0M1427.2 2229.7h0M1439.9 2225.9h0M1451.1 2225.7h0M1413.7 2234.4h0M1426.4 2234.5h0M1433.9 2235.7h0M1445.9 2237.3h0M1417.1 2242.6h0M1426.3 2243.5h0M1435.3 2243.6h0M1442.6 2239.1h0M1417.3 2245.8h0M1430.1 2250.8h0M1441.8 2246.6h0M1413.5 2253.2h0M1425.3 2254.9h0M1435.8 2256.1h0M1444.2 2254.8h0M1407 2258.5h0M1419.8 2260.3h0M1432.7 2262.6h0M1443.4 2264.2h0M1455.9 2263.8h0M1396.7 2264.5h0M1407.1 2265.5h0M1421.5 2265.3h0M1434.1 2268.5h0M1446.3 2267.3h0M1457.6 2268.8h0M1468.2 2264.8h0M1381.3 2271.8h0M1392.5 2273.8h0M1402.5 2272.1h0M1417.3 2274.9h0M1427.6 2274.8h0M1438.6 2272h0M1449.8 2274.8h0M1460.3 2276.5h0M1471 2274.1h0M1484.2 2273.5h0M1370.8 2280.2h0M1381.3 2277.6h0M1391.9 2282.2h0M1403.7 2277.7h0M1415.6 2282.1h0M1427.8 2283.7h0M1439.4 2278.1h0M1451.2 2283.1h0M1460.2 2283.7h0M1473 2281.1h0M1484.8 2278h0M1371.9 2288.8h0M1384.2 2286.7h0M1396.5 2286h0M1406.8 2283.9h0M1418.6 2287.2h0M1430.6 2287.6h0M1440 2288.4h0M1451.8 2288.7h0M1464.4 2288.6h0M1475.1 2289.9h0M1369.9 2292h0M1382.8 2296.5h0M1392.9 2296h0M1405 2293.2h0M1415.5 2293h0M1428.1 2293.6h0M1436.3 2292.1h0M1447.3 2294.3h0M1460 2293.8h0M1472.4 2292.4h0M1483 2290.4h0M1367.8 2300.6h0M1379.7 2302.4h0M1393.9 2303h0M1404.5 2301.7h0M1416.4 2300.2h0M1431.1 2302.5h0M1442.7 2299.4h0M1454 2301.4h0M1466.6 2302.4h0M1477.5 2302.9h0M1491.6 2298h0M1368.5 2303.3h0M1379.7 2303.6h0M1389.5 2309h0M1403.9 2305.9h0M1414 2305.1h0M1425.2 2304.8h0M1436.9 2306.5h0M1446.9 2307h0M1459 2306.9h0M1471 2308.9h0M1481.3 2303.9h0M1494.5 2306.9h0M1364 2315.5h0M1375.3 2311h0M1389.5 2314.7h0M1399.6 2314.2h0M1412.3 2310.8h0M1423.4 2315.6h0M1435.9 2310.5h0M1448.6 2314.3h0M1459.3 2311.5h0M1473 2315.7h0M1483.7 2315h0M1496.1 2311.4h0M1355.9 2316.4h0M1367.3 2319.2h0M1382.4 2319.7h0M1395.3 2318.9h0M1406 2321.9h0M1416.9 2318h0M1430.3 2318.1h0M1441.9 2320.3h0M1454 2316.9h0M1467.1 2318.6h0M1480.6 2316.9h0M1493.4 2317.9h0M1505.6 2318.6h0M1339.2 2325.9h0M1349.9 2328.1h0M1363.8 2326.9h0M1374.6 2327.2h0M1387.3 2328.3h0M1400.3 2325h0M1413.9 2325h0M1427.8 2329.2h0M1437.8 2325.1h0M1452.4 2327.2h0M1462 2324.5h0M1477.4 2328.9h0M1488.4 2326.3h0M1502.3 2328.1h0M1513.3 2323.7h0M1525.4 2328.2h0M1331.7 2334.2h0M1343.7 2335.7h0M1356.5 2334.7h0M1368 2335.5h0M1380.7 2332.1h0M1391 2335h0M1404.1 2332.3h0M1415.9 2331.9h0M1425.5 2331.6h0M1438.8 2331.9h0M1448.7 2334.7h0M1462 2329.4h0M1472.4 2335.1h0M1484 2332.3h0M1498 2333.4h0M1510.1 2329.9h0M1520.6 2331.1h0M1533.2 2330.6h0M1328 2340.6h0M1341.3 2335.9h0M1352.4 2339.9h0M1364.6 2341.1h0M1376.4 2339h0M1388.2 2340.1h0M1401.7 2335.8h0M1412.1 2336.6h0M1424.6 2339.2h0M1435.9 2340.3h0M1447.3 2339.2h0M1461.6 2342.1h0M1473.8 2336.9h0M1485.8 2340.3h0M1497.8 2341.9h0M1508.8 2340.4h0M1519.7 2337.9h0M1533.2 2341.5h0M1329.1 2343.8h0M1341.3 2347h0M1355 2343.1h0M1364.7 2342.8h0M1379.9 2348.3h0M1392.7 2347.6h0M1404 2342.6h0M1417.2 2346.4h0M1428.9 2348.2h0M1440.9 2348.4h0M1454.9 2348.7h0M1466.1 2345.5h0M1478.8 2347.4h0M1490.3 2343.6h0M1502.9 2343.8h0M1517.1 2344.9h0M1528.7 2345.3h0M1331.6 2354.8h0M1342.7 2351.6h0M1357.4 2355h0M1370.9 2350.4h0M1380.9 2351.3h0M1394.8 2350h0M1406.3 2352.9h0M1417 2350.2h0M1432.3 2351.6h0M1445 2351.7h0M1457.8 2352.3h0M1468.9 2352.8h0M1480.4 2352.4h0M1494 2353.3h0M1505.1 2351.1h0M1517.3 2353.7h0M1530.4 2352.2h0M1334.8 2356.1h0M1347.7 2360.9h0M1359 2360.8h0M1370.7 2358.1h0M1384.2 2359.9h0M1397.2 2358.6h0M1408.3 2359h0M1419.1 2361.7h0M1431.8 2355.9h0M1443.8 2356.8h0M1456.8 2359.9h0M1466.9 2360.3h0M1478 2358.7h0M1490.9 2358.9h0M1505 2355.7h0M1515 2357.9h0M1528.2 2360.2h0M1338 2362.7h0M1350.9 2363.3h0M1363.6 2368.1h0M1375.6 2366.1h0M1386.7 2365.7h0M1399.8 2366.7h0M1413.5 2368h0M1426.9 2367.8h0M1439.7 2363h0M1449.2 2362.7h0M1461.6 2361.9h0M1475.5 2366.4h0M1486.6 2363.1h0M1498.1 2364.1h0M1511.7 2364.2h0M1524.9 2365.3h0M1335.3 2373.6h0M1348.4 2369.8h0M1357.3 2372.5h0M1371.1 2372.9h0M1381.7 2371h0M1393.2 2369.4h0M1407.7 2371.1h0M1418.2 2369.2h0M1431 2371.9h0M1441.6 2369.3h0M1455.1 2369.2h0M1467.4 2369.7h0M1476.4 2373.3h0M1487.7 2372.8h0M1502.8 2371.1h0M1511.7 2373.9h0M1525.2 2370.1h0M1337.3 2375.7h0M1349 2376.8h0M1360.2 2378.2h0M1373.4 2376.4h0M1385.7 2379.9h0M1398.6 2375.6h0M1409.4 2375.4h0M1421.9 2376.5h0M1432.1 2380.7h0M1444.5 2376.2h0M1456.9 2376.7h0M1469.4 2375h0M1479.4 2375.7h0M1493.1 2378.8h0M1506.5 2379.8h0M1515.3 2380.8h0M1528.9 2378.6h0M1337.5 2382.3h0M1349.3 2386.4h0M1362.8 2387.4h0M1372.6 2384h0M1385.1 2382.8h0M1394.9 2382.5h0M1410.1 2382.1h0M1420.7 2382.7h0M1434.3 2382.2h0M1444.7 2385.2h0M1457.9 2381.5h0M1468.2 2383.8h0M1479.5 2383.1h0M1492.5 2383.1h0M1505.3 2383.2h0M1514.3 2385.8h0M1527.4 2383.6h0M1336.6 2391.3h0M1349.1 2388h0M1361.5 2388.3h0M1371 2393.2h0M1383.2 2388.3h0M1397.4 2391.7h0M1409.5 2393.7h0M1418.8 2393.6h0M1430.4 2393.7h0M1442 2392.8h0M1455.2 2390.6h0M1466.6 2389.5h0M1480.1 2393.6h0M1491.7 2389.7h0M1500.3 2393.1h0M1516 2389.6h0M1526 2393.8h0M1342.6 2399.6h0M1355.1 2394.9h0M1365 2395.5h0M1378.4 2395.7h0M1391.4 2394.3h0M1399.8 2394.4h0M1413.8 2397.3h0M1425.9 2395.7h0M1438.6 2399.5h0M1450.8 2396.6h0M1461.1 2399.4h0M1471.4 2397.2h0M1484.8 2396.4h0M1494.5 2399.9h0M1506.7 2398.1h0M1520.1 2399.7h0M1350.1 2407.1h0M1362.7 2405h0M1375.6 2405.1h0M1386.5 2403h0M1398.2 2404.3h0M1410.3 2402.7h0M1423.4 2407.1h0M1436.3 2403.4h0M1448.7 2404.1h0M1460.8 2402h0M1471.9 2402.6h0M1483.5 2404.5h0M1496.1 2403.7h0M1509.9 2404.8h0M1358.9 2408h0M1370.9 2412.1h0M1382 2407.5h0M1396.2 2408.9h0M1407.7 2409.9h0M1417.5 2412.3h0M1431.5 2407.8h0M1440.2 2409h0M1453.6 2407.9h0M1464 2411.1h0M1476.3 2407.6h0M1487.3 2407.6h0M1500.2 2410.5h0M1369.7 2416.4h0M1382 2418.2h0M1393.2 2417.8h0M1405.1 2417.2h0M1417.5 2416.9h0M1429 2417.6h0M1442.8 2417h0M1454.6 2417.4h0M1463.8 2416.5h0M1476.1 2415.4h0M1488.3 2416.9h0M1377.4 2424.9h0M1387.7 2420.5h0M1400.3 2422.9h0M1412.2 2420.5h0M1421.5 2426.3h0M1435.6 2421.9h0M1444.7 2425.2h0M1457.2 2422.1h0M1470 2422.9h0M1480.6 2426h0M1385.5 2432.5h0M1398.7 2428.6h0M1409.8 2426.9h0M1424.3 2428.5h0M1433.1 2432.8h0M1448.2 2432.4h0M1460.4 2428.8h0M1472.1 2430.5h0M1392.7 2438.9h0M1405.6 2436.3h0M1418.7 2437.3h0M1428.5 2438.5h0M1443.6 2436.5h0M1453.4 2439.4h0M1466.4 2439.6h0M1397.2 2444h0M1410.6 2445.7h0M1421.8 2442.1h0M1433.1 2441.4h0M1442.8 2445.7h0M1457.7 2443h0M1467.4 2444.6h0M1397.6 2447.1h0M1407.4 2448.6h0M1419.9 2447.8h0M1431.7 2452.3h0M1442.2 2449.4h0M1453.3 2447.7h0M1462.8 2449.4h0M1401.4 2457.6h0M1413.5 2456.5h0M1424.4 2453.3h0M1436.7 2455.6h0M1448.3 2457.2h0M1458.7 2458h0M1409.7 2462.2h0M1422.6 2459.9h0M1433.7 2464h0M1444.5 2461h0M1457 2464.5h0M1415.3 2467h0M1428.7 2470.7h0M1440.2 2470.3h0M1451.9 2468.8h0M1422.4 2474.2h0M1435.3 2478.5h0M1445.9 2476.7h0M1421.4 2483h0M1434.6 2481.2h0M1444.3 2480.6h0M1417 2487.8h0M1425.2 2491.1h0M1436 2490.2h0M1446.8 2489.5h0M1418.3 2495.5h0M1428.7 2494.1h0M1437 2494h0M1443.9 2496h0M1416.1 2501.3h0M1425.7 2501.3h0M1431.8 2502.1h0M1441.1 2500.8h0M1418.4 2509.2h0M1427.4 2507.3h0M1438 2507.7h0M1424.4 2517.6h0M1434.2 2515.9h0M1429.7 2529.1h0M1428.5 2537.7h0M1434.2 2535.8h0M1428.7 2546.2h0M1433.9 2543.8h0M1427.9 2551.7h0M1432.6 2552.9h0" stroke="#0000bf" stroke-width="15.6" stroke-linecap="round" fill="none"/>
<path d="M451.2 3849.6h0M451.2 3905h0M451.2 3969.4h0M447.3 3981.6h0M455.4 3978.4h0M451.2 3992h0M451.2 4001.6h0M449.9 4012.9h0M453.8 4017.7h0M451.2 4030.6h0M451.2 4061.2h0M451.2 4097.3h0M447.3 4105.4h0M457 4104.4h0M451.2 4122.4h0M451.2 4134.4h0M449.9 4139.8h0M448 4151.2h0M455.9 4152.4h0M447.2 4160h0M456.3 4158.5h0M444.9 4164.9h0M450.9 4165.3h0M458.4 4166.4h0M446.2 4171.1h0M456.8 4174.7h0M445.1 4179.4h0M453.8 4177.3h0M446 4186.5h0M455.4 4187h0M445.4 4188.7h0M456.5 4192.6h0M446.3 4200.2h0M451.7 4199.6h0M458.9 4195.1h0M442.1 4201.2h0M449.6 4204.2h0M460.4 4203.8h0M443.9 4211.9h0M453.2 4209.4h0M463.3 4208.8h0M445.3 4219.5h0M456.8 4216.3h0M445.5 4221.4h0M455.1 4225.8h0M461.1 4222.5h0M441.9 4229.3h0M454.7 4233h0M466 4232h0M437.5 4239.3h0M446.9 4233.9h0M460.4 4233.8h0M471.8 4237.5h0M433.2 4244.9h0M442.9 4241.8h0M454.1 4241.7h0M461.6 4245.1h0M471.4 4242.4h0M427.8 4248.8h0M440 4246.6h0M452.6 4246.7h0M461.2 4248.2h0M474.5 4250.1h0M422.6 4255h0M434.5 4256.9h0M443.7 4254.2h0M457.5 4255.7h0M467.8 4257.9h0M480.3 4258.3h0M421.1 4261.6h0M430.7 4265.7h0M440.2 4261.4h0M452.8 4264h0M462.8 4262.3h0M471.2 4265.3h0M483.7 4259.9h0M426.9 4271.9h0M438 4268.7h0M451.8 4266.4h0M463.8 4271h0M476 4270.6h0M432.3 4275.7h0M441.1 4273h0M453.7 4273.4h0M464.1 4278.5h0M431.2 4282.5h0M445.1 4281.3h0M455 4281.4h0M468.6 4284.8h0M427.9 4290h0M438.8 4290.1h0M448.7 4286.8h0M462.5 4291.3h0M472.4 4291h0M432.5 4297.2h0M443.3 4295.6h0M454.7 4294.5h0M467.2 4292.8h0M435.1 4301.1h0M448.2 4300h0M460 4299h0M472.3 4300h0M419.4 4304.9h0M431.5 4306.2h0M441 4311.3h0M455.9 4310.7h0M466.3 4310.7h0M476.2 4305.7h0M488.6 4310.7h0M416.4 4314.5h0M429.5 4317.7h0M440.6 4312.2h0M453.4 4317.1h0M463.8 4316.6h0M475.5 4316.9h0M488.5 4315.6h0M415 4320.5h0M425.8 4318.7h0M440 4324.1h0M451.2 4320.6h0M464.4 4320.1h0M472.8 4319.6h0M486.1 4321.9h0M410.5 4325.5h0M420.5 4326.6h0M433.7 4326.7h0M445.4 4327.6h0M458.3 4325.2h0M469.1 4325.3h0M478.2 4325.5h0M491.8 4326.2h0M406.4 4335.2h0M418.9 4334.6h0M428.2 4335.3h0M438.4 4331.8h0M451.3 4334h0M463.2 4333h0M472.1 4336.8h0M485.3 4335.8h0M496.3 4335h0M407.2 4342.6h0M417.2 4342h0M430.5 4342.4h0M441 4341.6h0M451.6 4339.1h0M464.3 4341.5h0M476.6 4343.2h0M488.5 4341.3h0M499.1 4341.6h0M409.6 4344.1h0M419.3 4349.4h0M432.4 4346.7h0M445.8 4344.7h0M454.8 4348.7h0M466.6 4346.5h0M477.9 4344.8h0M490.7 4349.6h0M406.4 4350.6h0M416.8 4355.9h0M429.1 4356.3h0M442.3 4354h0M452.4 4354.3h0M465.7 4356.2h0M476.3 4355.9h0M486.8 4352.2h0M406.6 4358.4h0M420.2 4362.8h0M430.3 4362.6h0M444.9 4362.3h0M456.2 4358.1h0M468 4363h0M478.3 4358.4h0M492.4 4362.3h0M403 4365.6h0M416.7 4367.1h0M425.7 4363.8h0M439.2 4369.6h0M449.6 4363.5h0M463.8 4369.3h0M474.8 4368.2h0M485.2 4369.1h0M497.5 4367.7h0M400 4370.2h0M411.2 4371h0M425.4 4376.3h0M435.7 4374.6h0M449.3 4370.8h0M462.2 4373.3h0M471.8 4371.5h0M487.1 4371.7h0M497.4 4373.3h0M394.7 4378.3h0M405 4381.6h0M420.1 4382.6h0M431.8 4382.7h0M444.1 4382.1h0M455.9 4376.5h0M466.5 4376.4h0M478.6 4380.1h0M490.5 4379.3h0M504.1 4381.4h0M395.6 4385.2h0M408 4388.9h0M417.5 4384.5h0M430.3 4385.6h0M441.5 4383.8h0M450.6 4387.8h0M463.9 4388.1h0M473.4 4382.9h0M485.1 4384.5h0M498.2 4385.7h0M508.3 4387.3h0M389.4 4389.7h0M399.9 4394.7h0M414.2 4393.7h0M426.7 4393.2h0M437.8 4390.9h0M448.1 4391.9h0M461 4394.7h0M472.9 4394.8h0M484.7 4390.6h0M496.2 4390.7h0M510 4389.4h0M385.6 4401.5h0M395.6 4401.4h0M408.5 4400.4h0M420.7 4396.8h0M430.8 4401.7h0M442.1 4399.3h0M454.7 4399.1h0M466.4 4398.6h0M480.2 4399.3h0M491.9 4398.1h0M504 4402.3h0M514 4397.8h0M385 4406.4h0M397 4408.1h0M408.1 4403.5h0M419.5 4408.7h0M432.7 4405.3h0M444.4 4408.1h0M455.9 4407.2h0M469.5 4405.5h0M479.6 4405.1h0M490.6 4404.3h0M502.7 4404.6h0M515.5 4406.4h0M383 4413.9h0M395.8 4410h0M407.1 4413.9h0M419.5 4410h0M429.4 4409h0M442.2 4413.4h0M456.1 4414.9h0M466.4 4409.6h0M478.7 4415.1h0M491.7 4409.2h0M505.1 4413.9h0M515.5 4410.2h0M383.5 4417.2h0M395.8 4416.8h0M406 4417.9h0M419.3 4416.4h0M430 4419.5h0M444.3 4418.7h0M454.4 4418.8h0M467.4 4417.8h0M481.5 4420.6h0M490.1 4417.1h0M502.6 4417.9h0M515.7 4419.5h0M384.5 4427.4h0M396.5 4424.4h0M408 4426h0M422.2 4426.5h0M435.4 4428.1h0M445.2 4427.6h0M459.4 4424.7h0M470 4423.2h0M481.3 4423.8h0M494.5 4424.8h0M505.3 4425.2h0M519.4 4422.2h0M367 4434.5h0M380.6 4428.5h0M389.6 4433.8h0M402.9 4433.3h0M415.9 4429.2h0M428.1 4433h0M441.7 4433.8h0M451.5 4430.6h0M465.7 4428.8h0M476.5 4428.5h0M487 4431.3h0M499 4434.2h0M513.3 4431.9h0M527.1 4430.9h0M537.5 4428.7h0M348.3 4436.8h0M359.1 4440.9h0M371.5 4438.3h0M383.5 4439.5h0M398.4 4436.4h0M407.4 4436.3h0M420.6 4439.2h0M432 4437.6h0M443.8 4435.4h0M455.3 4435.2h0M469.3 4438.8h0M480.7 4437.6h0M492.9 4435.9h0M504.3 4437h0M516.2 4436.1h0M529.9 4438.1h0M543 4437.8h0M554.1 4436.2h0M354.3 4443.2h0M364.7 4447.1h0M378.3 4446.8h0M389.5 4447.1h0M401.5 4447.4h0M414.4 4447.6h0M428.1 4445.9h0M437.6 4441.5h0M452.4 4447.1h0M464.6 4447.7h0M473.9 4443.1h0M488.9 4443.6h0M498.8 4446.6h0M512.6 4442.9h0M523.1 4445.3h0M536.6 4444.6h0M547.1 4447.3h0M363.3 4450.7h0M375.9 4450.7h0M387.1 4453.6h0M400.8 4452.2h0M410.9 4449.4h0M422.5 4453.1h0M435.3 4448.6h0M444.9 4452.9h0M457.5 4451.7h0M470.5 4449.6h0M481.2 4453.1h0M493.2 4451.4h0M504.5 4452.2h0M518.9 4448.9h0M528.3 4449.1h0M541.1 4450.4h0M364.4 4455.3h0M375.7 4456.2h0M388.3 4455.5h0M398.9 4458.4h0M412 4456.3h0M424.4 4458.6h0M437 4454.7h0M445.1 4455.6h0M458.5 4458.7h0M469.7 4460.3h0M482.2 4458.8h0M495.7 4460.4h0M507.1 4456h0M518.5 4455.1h0M528.9 4456.3h0M541.4 4456.4h0M360.7 4463.1h0M374.4 4460.9h0M383.7 4462.4h0M399.3 4466.4h0M410.2 4463.1h0M420.8 4467h0M436.9 4461.5h0M447.1 4461.9h0M458 4461.4h0M473.1 4467.3h0M482.7 4466h0M495.6 4467.2h0M510.4 4462.1h0M522.2 4463.7h0M532.6 4464h0M546.3 4464.4h0M355.7 4467.8h0M367.8 4469.5h0M381.4 4471.7h0M391.8 4471.8h0M405.2 4472.8h0M414.6 4471.6h0M428.6 4468.6h0M439.1 4470.6h0M453 4470.1h0M461.7 4471.2h0M476.6 4471h0M487.5 4473.6h0M498 4473.3h0M511 4468.3h0M523.6 4468.2h0M532.9 4470h0M546.3 4471.6h0M352 4476.5h0M364 4473.9h0M376 4479h0M390.1 4476.5h0M400.6 4480.3h0M414.6 4477.3h0M426.7 4476.6h0M438.9 4479.6h0M450.8 4475.3h0M465.9 4477h0M474.6 4476.8h0M487 4477.1h0M501.3 4474.2h0M513.2 4474.5h0M526.7 4477.3h0M539.6 4477.1h0M551.2 4478h0M353.5 4484.7h0M364.6 4485.3h0M378 4480.7h0M392 4483.9h0M403.8 4483.6h0M413 4486.6h0M426.1 4481.1h0M441.2 4485.9h0M450.9 4482h0M464.5 4484.1h0M476.7 4486.5h0M486.8 4484.7h0M502.9 4482h0M515 4484.1h0M526.1 4486.1h0M537.9 4486.2h0M353.9 4491.3h0M364.7 4488.8h0M380.3 4489.4h0M392.4 4491.7h0M403.4 4489.8h0M413.5 4487.5h0M427.8 4487.7h0M441.2 4490.9h0M450.8 4489h0M462.1 4490.1h0M475.8 4487.8h0M487.3 4491.3h0M499.9 4487.7h0M512.4 4492h0M525.2 4488.4h0M370.3 4493.6h0M384.5 4495.4h0M394.1 4494.7h0M408.5 4498h0M419.3 4499.4h0M430.8 4494.5h0M446.4 4496h0M457.8 4493.8h0M469.2 4496.3h0M482.9 4495.1h0M492.7 4496.7h0M507.8 4496.4h0M518.6 4496.3h0M386.7 4503.4h0M397.8 4503.3h0M413.1 4502.1h0M421.8 4502.1h0M434.5 4503.9h0M447.8 4504h0M459 4503.3h0M473.5 4501.3h0M484.8 4502.4h0M497.8 4503.9h0M510.1 4503h0M393 4512.8h0M406.2 4509.4h0M415 4509.1h0M426.7 4510.3h0M439.7 4507.3h0M449.2 4507.2h0M463.4 4510.5h0M472.4 4511.3h0M484.2 4510.3h0M497.9 4510.7h0M507.7 4509.9h0M400.5 4514.9h0M410.3 4514.3h0M425 4518.7h0M433.8 4516.6h0M445.1 4516.9h0M455.5 4513.6h0M468.4 4514.9h0M480.5 4518.2h0M491.8 4518.2h0M502.5 4513h0M402.2 4522.8h0M415.1 4519.9h0M426.7 4523.9h0M437.8 4525.1h0M449.1 4521.2h0M458.1 4522.9h0M471 4522.8h0M480.7 4523.7h0M493.8 4520.3h0M417.4 4527.2h0M429.8 4532.1h0M437.8 4526.3h0M451.3 4526.1h0M458.6 4528.1h0M472.4 4528h0M481.3 4531.1h0M428.2 4532.8h0M440.5 4538.8h0M450 4533.2h0M460 4536h0M470.7 4536.5h0M441.1 4540.3h0M448.8 4539.2h0M459 4543.8h0" stroke="#ff9600" stroke-width="15.6" stroke-linecap="round" fill="none"/>
<path d="M777.9 3987h0M777.9 4117.2h0M777.9 4139.1h0M772.1 4147.1h0M785 4145.5h0M777.9 4158.4h0M773.7 4169.7h0M783.4 4169.7h0M775.3 4179.3h0M783.4 4179.3h0M773.7 4193.8h0M783.4 4195.4h0M776.9 4194.2h0M783.5 4198.4h0M772.6 4201.3h0M779.5 4201h0M786.2 4204.1h0M773.2 4208.1h0M780.9 4209.7h0M788.8 4211.8h0M766.8 4215.3h0M774 4215.5h0M783 4213.1h0M794 4214.1h0M759.2 4222.7h0M769.9 4220.8h0M780.9 4222.6h0M789.8 4222.8h0M802.3 4220.1h0M749.2 4229.4h0M761.5 4228.3h0M774.5 4229h0M786.8 4229.3h0M797.7 4229.6h0M810.4 4228.2h0M751.8 4235.9h0M764 4236.1h0M773.2 4236.2h0M783.4 4234.2h0M794.5 4237.9h0M805.1 4236.1h0M756 4239.2h0M769.2 4241.3h0M779.9 4244.8h0M789.2 4242.2h0M802.3 4239.8h0M755.4 4246.8h0M767 4246.5h0M778.2 4249.6h0M791.2 4251.2h0M803.9 4250.6h0M754.8 4257.8h0M766.5 4251.4h0M779 4257.1h0M789.6 4253.5h0M802.7 4256.6h0M757.6 4260.2h0M767.9 4258.5h0M779.3 4263.2h0M789.3 4261.1h0M802.5 4258.9h0M755.9 4265.5h0M768.6 4265h0M776.9 4265.2h0M788.7 4266.8h0M800.7 4266.9h0M753.7 4276.5h0M765.2 4272h0M779.1 4273.4h0M791.1 4272.2h0M802.5 4272.9h0M742 4277.9h0M753.4 4277.6h0M767.5 4281.6h0M776.3 4282.8h0M791.3 4282.7h0M800 4281.2h0M813.1 4278h0M734.7 4284.8h0M746.1 4284.1h0M758.2 4286.3h0M767.4 4287.3h0M779.3 4289.7h0M792.4 4288.1h0M802.2 4287.4h0M813.9 4289.4h0M825.6 4290.3h0M725.4 4290.8h0M736.4 4295.3h0M750.5 4295.4h0M760.9 4293.5h0M773.2 4296.2h0M786.1 4295.1h0M798.1 4296.5h0M811.4 4296.8h0M820.9 4293.9h0M834.4 4292.4h0M720.5 4298h0M733.5 4298.1h0M743.5 4299h0M753.2 4303h0M767.4 4300.1h0M777.5 4299.6h0M789.2 4297.3h0M800.9 4303.2h0M810.4 4301h0M821.8 4299.6h0M834.4 4298h0M719.9 4309.7h0M731.4 4306.7h0M741.1 4307.8h0M752.3 4304.1h0M766 4309h0M774.8 4304.6h0M788 4309.5h0M800.7 4308h0M810.3 4306.4h0M823.6 4307.9h0M833.2 4306.9h0M719.1 4315.4h0M729.4 4311.8h0M741 4315.4h0M753.3 4310.8h0M768.3 4314.1h0M778.6 4315.9h0M789.2 4313.6h0M803.4 4316.3h0M814.9 4311.3h0M827.4 4316.3h0M837.8 4315.6h0M714.6 4321.7h0M727.1 4316.8h0M736.2 4321.3h0M750.5 4318.7h0M762.8 4317.8h0M772.4 4321.1h0M785.5 4318.5h0M796.1 4319.9h0M807.5 4321.8h0M820.2 4316.9h0M829.5 4321.6h0M842.2 4320.4h0M711.7 4325.9h0M722.9 4327.9h0M735.1 4326.7h0M745.9 4328.5h0M760.4 4327h0M773.8 4325.6h0M782.7 4324.8h0M796.6 4323h0M808.4 4324.5h0M820.5 4324.2h0M832.8 4323.2h0M844 4328.6h0M711.5 4334.2h0M724.2 4332.8h0M738.1 4332.2h0M747.6 4332.1h0M762.4 4333.4h0M771.9 4330.2h0M786.2 4333.7h0M798.3 4335.4h0M812.3 4329.7h0M824 4331.9h0M835.2 4330.3h0M848.1 4333.6h0M711.2 4339.1h0M722.1 4339.5h0M736.4 4340.7h0M747.5 4339.6h0M759.4 4339.9h0M774 4341.2h0M786.2 4337.4h0M796.4 4337.6h0M809.5 4336h0M820.3 4341h0M835.3 4336.9h0M846.4 4342.3h0M701 4348h0M714 4347.4h0M725.9 4348.5h0M736.3 4345.8h0M749.4 4342.8h0M762.6 4343h0M773.2 4345.2h0M786.1 4343.4h0M796.4 4346.4h0M808.1 4344h0M819.7 4343.1h0M832 4348.6h0M843.7 4343.3h0M857.5 4342.7h0M687.3 4354.7h0M697.3 4349.2h0M710.8 4350.1h0M724.4 4353h0M733.7 4349.7h0M745.9 4350.6h0M758.9 4355.3h0M771.2 4353.2h0M783.7 4351.4h0M796.3 4352.4h0M807.1 4353.9h0M817.9 4352.7h0M830.4 4355.3h0M842.7 4349.8h0M852.9 4349.8h0M866.8 4352.5h0M681.3 4357.2h0M694.4 4356.7h0M705 4359.2h0M720.1 4357.1h0M731.8 4356h0M741.3 4359.1h0M755.5 4356.6h0M766.9 4358h0M780.5 4358.4h0M793.8 4358.5h0M803.5 4356.6h0M817.2 4361.4h0M829.2 4355.8h0M841.9 4358.9h0M856.4 4359.5h0M866.9 4358.3h0M879.6 4356.3h0M677 4363h0M689.8 4364.9h0M702.3 4365.7h0M712.3 4368.2h0M726.8 4365.9h0M740.8 4364.6h0M752.5 4363.3h0M764.3 4364.1h0M777.2 4367.8h0M788.3 4362.7h0M800.4 4367.4h0M814.7 4364.9h0M827.4 4363.8h0M836.5 4367.1h0M850.4 4367.3h0M863.4 4366.1h0M875.1 4367.5h0M679.3 4369.6h0M690.1 4374.8h0M701.6 4371.6h0M713.2 4370.3h0M727.7 4370.8h0M739.3 4374.8h0M752.1 4372h0M763.1 4372.2h0M774.2 4372.7h0M788 4372.6h0M800.3 4372.1h0M811.7 4368.4h0M822.3 4369.7h0M833.8 4371.3h0M846.3 4373.9h0M857.9 4372.9h0M870 4371h0M683.3 4378h0M693.8 4380.3h0M709.7 4375.9h0M719.6 4375.8h0M733.6 4378.4h0M743.8 4375.6h0M756.9 4375h0M768 4380.3h0M782.2 4380.7h0M792.5 4379.6h0M806.5 4375.2h0M817.1 4380.7h0M829.8 4379h0M841.7 4380.8h0M856.3 4379.9h0M867.5 4380.3h0M685.5 4385.9h0M697.4 4386.5h0M709.6 4385.2h0M722.4 4382.8h0M733.1 4387.3h0M746.7 4385.5h0M757 4385.1h0M771.5 4385.9h0M782 4382.4h0M794.4 4382.1h0M808.6 4386.1h0M818.5 4383.2h0M829.3 4383.8h0M844.6 4384.2h0M856.1 4383.5h0M867.6 4382.6h0M690.2 4388.9h0M702.4 4391.3h0M714.8 4392.7h0M728.6 4391.7h0M742.1 4394.3h0M751.6 4390h0M764.1 4389.5h0M777.6 4392.9h0M788.3 4392h0M801.6 4393.4h0M813.6 4389.8h0M828.7 4393.8h0M841.4 4390.9h0M850.8 4388.8h0M865 4388.6h0M690.5 4396.3h0M704.2 4397.7h0M716.4 4399.1h0M727.5 4400.1h0M740.7 4400.6h0M752.1 4395.7h0M762.1 4399h0M775 4398.1h0M787.7 4400h0M801 4398.9h0M813.9 4400.5h0M825.2 4394.7h0M836.7 4397.1h0M849.8 4398.8h0M862 4394.7h0M691.1 4403h0M704.5 4403.3h0M714.1 4406.5h0M726 4404.4h0M740.6 4406.2h0M752.5 4407h0M764.9 4402.8h0M775.5 4406.1h0M788.9 4406.7h0M800.8 4405.1h0M813.9 4407.3h0M825 4403.5h0M837.4 4403.2h0M849.1 4401.9h0M861.7 4402.1h0M693 4407.5h0M704.7 4412.3h0M716.2 4409.9h0M726.7 4408.8h0M742.1 4409.2h0M752.7 4411.6h0M763.6 4407.4h0M777.4 4409.2h0M787 4408.3h0M799.3 4408.6h0M812 4408h0M825.3 4410h0M834.9 4409.3h0M847.4 4409h0M859.5 4409.8h0M693.8 4415.2h0M706.8 4415.4h0M718.9 4417h0M727.4 4415.4h0M740 4420h0M752.3 4415.8h0M765.2 4419.8h0M776.8 4419h0M788.7 4418.5h0M800.4 4415.8h0M811 4420.2h0M824.6 4415.1h0M836.4 4420.3h0M849.5 4419.1h0M859.8 4420.2h0M690.3 4424.4h0M702.8 4425h0M715 4425.5h0M725.9 4422.5h0M737.7 4425.3h0M749.7 4421.4h0M759.9 4420.6h0M773 4421.6h0M783.2 4425h0M797.6 4420.9h0M809 4426.3h0M820.1 4422.7h0M829.9 4422.2h0M844.2 4421.6h0M856.5 4422.9h0M866.2 4426h0M688.5 4430.9h0M701.7 4429.9h0M711.1 4432h0M724.1 4429.6h0M737.8 4427.4h0M749.7 4428.2h0M761 4432.6h0M774 4429.7h0M785.7 4428.8h0M797.8 4430.8h0M808.4 4432h0M820.5 4427.1h0M834.8 4432.2h0M846.7 4430.5h0M856.9 4430.7h0M870 4426.9h0M684.2 4436.2h0M696.2 4434.7h0M708.3 4434.3h0M718.6 4439.2h0M730.1 4436h0M741.6 4437.6h0M753.4 4435.2h0M766.6 4434.3h0M777.6 4435.4h0M790.2 4439.5h0M802.5 4435.8h0M816.1 4433.7h0M825.5 4435.6h0M837.7 4438h0M848.4 4438.7h0M863.6 4434.5h0M874 4437.9h0M681.4 4445.3h0M694.7 4444.6h0M707.1 4444.1h0M717.8 4444.3h0M727.8 4440.4h0M739.6 4442.6h0M752 4441.7h0M765.3 4441h0M779.1 4445.6h0M788.3 4445.8h0M802.8 4440.9h0M811.4 4444.4h0M823.2 4442.2h0M837.9 4444.5h0M850.8 4442.5h0M861.9 4445.4h0M872.9 4446.3h0M681.4 4450h0M692.9 4451.1h0M707.1 4451.7h0M716.6 4447.1h0M728.3 4452.7h0M739.4 4449h0M753.1 4448h0M766 4451.4h0M777.2 4449.7h0M788.6 4447.8h0M798.2 4450.9h0M812.9 4447.7h0M825.3 4452.5h0M835.9 4446.7h0M846.2 4450.7h0M858.9 4452.1h0M871.2 4446.8h0M688.7 4456.7h0M699.5 4454.4h0M712.5 4456.4h0M723.3 4457.4h0M735.1 4455.5h0M746.9 4458.7h0M759.2 4455h0M773.5 4453.1h0M781.4 4456.9h0M794.3 4455.5h0M806.5 4456.4h0M819.5 4458.6h0M829.7 4454.3h0M843.2 4456.6h0M854 4453.4h0M866.2 4459.2h0M692.4 4461.3h0M705.6 4460.1h0M716.8 4460.7h0M730.6 4462.4h0M741.9 4461.3h0M751.3 4460.6h0M765.9 4460.8h0M778 4462.5h0M790.9 4459.5h0M800.9 4465.3h0M813.2 4460.4h0M824.7 4459.7h0M838.1 4460.8h0M849.1 4460.9h0M861.4 4459.4h0M699.6 4471.9h0M713.3 4471.2h0M724.2 4466.7h0M736.9 4468h0M747.8 4471.1h0M761.9 4469.2h0M771.2 4466.9h0M787.2 4469.3h0M796.6 4465.9h0M809 4470.7h0M821.6 4468h0M832.8 4466.4h0M845.2 4469.6h0M858.8 4467.2h0M702.7 4475.5h0M715.2 4472.4h0M724.6 4476.9h0M736.8 4474.4h0M751.7 4477h0M760.2 4473.8h0M774.2 4478h0M786.7 4478.8h0M799.1 4472.9h0M808.7 4476.3h0M820.9 4472.9h0M832.6 4475h0M844.5 4476.9h0M856.4 4477h0M710.8 4479.1h0M721.2 4482.7h0M734.4 4482.2h0M745.8 4479.3h0M758 4481.4h0M767.2 4482.9h0M781.5 4479.6h0M791.4 4479.5h0M804.6 4481.4h0M813.1 4485.3h0M824.7 4485.2h0M837.1 4485.3h0M849.7 4484.8h0M721.2 4487.7h0M730.8 4489.9h0M746.3 4488h0M755.6 4485.5h0M769.4 4485.6h0M777.4 4486.3h0M792 4488.9h0M804.4 4486.6h0M813.8 4486.6h0M827.5 4487.2h0M837.5 4486.8h0M729 4496.9h0M742.9 4493.1h0M752.7 4494.8h0M766.1 4494.8h0M776.8 4496h0M791.4 4498h0M801.4 4496h0M813.8 4492.4h0M825.6 4493.7h0M732.4 4503.4h0M742.7 4501.4h0M757.1 4503.9h0M768.9 4501.7h0M779.6 4500.3h0M790.7 4500h0M805.1 4499.9h0M815.4 4504.6h0M827.6 4499.8h0M738.5 4506.9h0M752.1 4509.3h0M763.8 4508.6h0M772.5 4511h0M787.2 4507.1h0M798 4506.2h0M810.8 4509h0M821.1 4507.5h0M743.5 4516.4h0M753.5 4516.5h0M765.4 4516.1h0M780.9 4517.1h0M789.7 4516.7h0M804.5 4515h0M815.3 4514.2h0M753.1 4522.8h0M764.1 4522.5h0M772.6 4519.1h0M783.2 4518.4h0M793.3 4520h0M804.3 4521.1h0M764.4 4525.2h0M774.6 4529.3h0M789.1 4527h0M800 4525.5h0" stroke="#de0e00" stroke-width="15.6" stroke-linecap="round" fill="none"/>
<path d="M1100.7 3739.3h0M1108.7 3749h0M1103.9 3930h0M1103.9 3955.8h0M1103.9 3970.6h0M1103.9 3987.4h0M1091.6 3998.7h0M1101.3 3998.7h0M1116.8 4000.3h0M1082.3 4004.2h0M1102.4 4006.6h0M1115.1 4004.6h0M1124.2 4004.1h0M1088.9 4014.5h0M1098.2 4018.8h0M1116.4 4014.7h0M1097.6 4026.6h0M1107.8 4027.5h0M1119 4026.8h0M1094.4 4041.4h0M1106.9 4039.7h0M1116.6 4037.5h0M1081.9 4051h0M1095.3 4049.7h0M1108.6 4049.5h0M1121.8 4051.7h0M1072.5 4059.4h0M1084.6 4060.6h0M1093.1 4059.3h0M1104.7 4060.5h0M1115.6 4063.5h0M1064.7 4073.1h0M1077.8 4070.5h0M1090.6 4073.7h0M1103 4072.3h0M1114.5 4073.4h0M1128.7 4074.6h0M1058.2 4083.2h0M1083.1 4084.2h0M1095.9 4083.8h0M1110 4080.7h0M1124.1 4083h0M1136.9 4082.2h0M1149.3 4082h0M1062.2 4095.9h0M1075.3 4097.2h0M1087.6 4092h0M1102.4 4091.6h0M1113.2 4091.5h0M1127.3 4095.3h0M1140.3 4094h0M1153.3 4095.2h0M1062.3 4102.7h0M1074.9 4106.6h0M1087.8 4104.7h0M1100 4103.3h0M1112.8 4103.8h0M1125.1 4105.5h0M1136.5 4102.5h0M1150.2 4104.7h0M1065.3 4114.5h0M1077.5 4113.6h0M1089.7 4114.1h0M1104.5 4114.6h0M1116.6 4114.3h0M1127.8 4113.3h0M1141.8 4111.3h0M1045.8 4128.4h0M1059.3 4127.4h0M1072.8 4126h0M1083.3 4128.9h0M1097.5 4127.1h0M1112.1 4126h0M1123.1 4129.2h0M1136.7 4124.8h0M1149.4 4127.2h0M1162.8 4129.6h0M1031.3 4143.2h0M1043.4 4143.2h0M1069.9 4137.3h0M1081.7 4137.2h0M1093.7 4137.8h0M1106.2 4137.4h0M1119.7 4137h0M1133.4 4138.1h0M1146.4 4140.8h0M1159.2 4137.9h0M1184 4144.9h0M1037.8 4144h0M1051.1 4146.1h0M1063.1 4147.6h0M1076.5 4150.5h0M1089.1 4148.6h0M1101 4149h0M1114.8 4149.8h0M1128.1 4149.5h0M1140.8 4149.7h0M1151.7 4149.3h0M1165.3 4147.2h0M1177.9 4144.5h0M1037.4 4153.3h0M1050.2 4156.9h0M1061.5 4158.6h0M1075.1 4158.7h0M1100.5 4160.7h0M1114.4 4157.4h0M1138.4 4158.8h0M1150.7 4156.1h0M1164.1 4154.7h0M1177.3 4156.5h0M1027.8 4179.3h0M1041.7 4176.8h0M1053 4177.2h0M1065.2 4173.1h0M1077.6 4173.9h0M1089.2 4172.4h0M1103.2 4171.9h0M1114.8 4169.5h0M1129.4 4171.4h0M1141.8 4173.9h0M1152.7 4175.4h0M1167.5 4176.8h0M1178.6 4181.1h0M1048.1 4185.7h0M1061.3 4184.1h0M1072.8 4184.5h0M1085.5 4184.3h0M1097.5 4182.2h0M1111.4 4180.4h0M1123.5 4179.6h0M1135.8 4182.4h0M1148.7 4181.9h0M1162 4183.4h0M1173.9 4187.1h0M1041.9 4186.5h0M1054.3 4187.3h0M1068.7 4191.5h0M1081.2 4191.1h0M1094.5 4193.1h0M1108.8 4191.9h0M1123.6 4194.1h0M1134.9 4192.1h0M1149.3 4191.1h0M1162 4188.7h0M1176.6 4189.3h0M1019.9 4209.5h0M1034.2 4208.4h0M1046 4208.1h0M1057.6 4203h0M1086 4202.2h0M1099.3 4205.8h0M1111 4203.6h0M1125.2 4204.2h0M1136.6 4202.6h0M1149.8 4206.1h0M1162.5 4208.5h0M1189.7 4210.6h0M1026.2 4225.3h0M1049.9 4219.9h0M1088.2 4216.5h0M1099.7 4213.2h0M1112.7 4213.8h0M1125.4 4215.1h0M1138.7 4218.6h0M1163.6 4220.6h0M1175.9 4224.7h0M1029.2 4228.4h0M1041.7 4231h0M1079.8 4228.4h0M1092.8 4223.8h0M1116.1 4224.9h0M1127.5 4224.2h0M1140.5 4225.9h0M1154 4228.7h0M1167.2 4228h0M1178.7 4229.1h0M1030.3 4234.4h0M1042.4 4235.3h0M1055.8 4233.3h0M1071.1 4235.7h0M1083.8 4238.1h0M1095.6 4238.4h0M1110.4 4238.3h0M1123.4 4238h0M1137.7 4236.2h0M1177.3 4235h0M1190.3 4229.8h0M1010 4266h0M1022.8 4260.5h0M1036.9 4255h0M1047.7 4255h0M1059.8 4253.4h0M1074.6 4247.5h0M1087.2 4246.9h0M1099.2 4250h0M1112.1 4246.6h0M1125.3 4247.8h0M1151 4250.4h0M1162.8 4252.4h0M1176.4 4256.3h0M1188.5 4262.5h0M1201.7 4264.7h0M1013.1 4254.3h0M1026.9 4256.5h0M1040.5 4258h0M1065.3 4257.5h0M1081.3 4257.1h0M1092.7 4256.3h0M1119.8 4257.2h0M1134.4 4260h0M1147.4 4259.2h0M1161.4 4257.2h0M1175.1 4254.9h0M1186.1 4252.6h0M1200.9 4252.5h0M1020.2 4279.6h0M1034.4 4277.6h0M1045.7 4276.5h0M1057.6 4271.9h0M1070.3 4272.9h0M1085.4 4268.7h0M1095.9 4269.2h0M1110.7 4269.8h0M1122.7 4269.7h0M1147.3 4273.3h0M1173.6 4275h0M1186.2 4282.8h0M1033.1 4278.3h0M1047.4 4276h0M1059 4278.9h0M1073.2 4278.6h0M1084.8 4278.6h0M1113.9 4280.8h0M1139.6 4278.7h0M1153.1 4279.5h0M1165.6 4279.1h0M1179.3 4276.6h0M1037.1 4296.2h0M1048.5 4294.1h0M1073.9 4293h0M1086.1 4290h0M1099 4293.5h0M1111.6 4293.7h0M1124.5 4290.6h0M1149.7 4292.2h0M1162.1 4292.8h0M1174.2 4294.8h0M1037.4 4308.5h0M1048.2 4306.9h0M1061.2 4307.4h0M1073.7 4303.6h0M1088 4300.8h0M1099.2 4304.5h0M1109.9 4302.7h0M1122.7 4301.4h0M1134.3 4301.9h0M1160.8 4305.5h0M1172.5 4309.4h0M1030.9 4320.6h0M1043 4319.3h0M1055.9 4319.1h0M1070.6 4315.9h0M1083.5 4313.6h0M1097.6 4312.5h0M1110.1 4313.9h0M1122.4 4315.4h0M1135.2 4315.1h0M1149 4318.7h0M1161.4 4319.6h0M1175.6 4320.4h0M1029.4 4317.5h0M1044 4319.4h0M1056.7 4319.7h0M1069.6 4325h0M1096.8 4324.5h0M1111.2 4324.9h0M1124.5 4324.7h0M1150.3 4323.5h0M1164.7 4320.7h0M1177.6 4320.1h0M1026.2 4332.6h0M1039.1 4335.2h0M1053.7 4332.4h0M1067.1 4333.8h0M1079.2 4334h0M1093.5 4333.6h0M1104.9 4337.3h0M1118.3 4333.9h0M1132.5 4334h0M1145.3 4334.2h0M1157.2 4335h0M1184.3 4331.6h0M1018.6 4347.6h0M1031.4 4347.3h0M1045.7 4348.6h0M1058 4346.4h0M1072.7 4345.4h0M1084.5 4348h0M1097.2 4349.2h0M1110.9 4347.8h0M1125 4344.3h0M1139.1 4348.3h0M1152.3 4347.8h0M1165.1 4348.7h0M1179 4345.5h0M1191 4348.3h0M1011.1 4370.6h0M1025.6 4364.6h0M1036.5 4366h0M1050.5 4359.6h0M1065.3 4358.5h0M1077.1 4358.8h0M1091 4359.5h0M1103.1 4359.8h0M1117.6 4359.6h0M1129.8 4358.9h0M1144.3 4361.2h0M1156.4 4362.9h0M1171 4364.3h0M1182.2 4365.9h0M1196.2 4368.9h0M1020.5 4377h0M1035 4374.1h0M1046.8 4371.3h0M1059.3 4370.9h0M1072.8 4370.7h0M1087.6 4371.6h0M1098.7 4369.3h0M1112.2 4367.5h0M1139.6 4369.1h0M1151.2 4369.9h0M1165.1 4372.9h0M1178.2 4371.8h0M1191.1 4373.3h0M1027.5 4379.1h0M1041 4377.8h0M1052.1 4380.7h0M1066.6 4382.2h0M1092.2 4380.3h0M1103.5 4378.5h0M1117.9 4379.2h0M1130.2 4381.2h0M1142.6 4380.7h0M1155.3 4380.6h0M1168.9 4379.4h0M1181.6 4378.8h0M1030.4 4396.7h0M1041.9 4398h0M1056.1 4395.8h0M1069.2 4391.9h0M1081.6 4393.8h0M1092.1 4390.1h0M1106.7 4391h0M1118.5 4391.5h0M1129.6 4393.9h0M1143.4 4393.2h0M1155.7 4392.9h0M1168.6 4397.6h0M1181.2 4397.9h0M1032.4 4395.7h0M1044 4397.9h0M1058.5 4400.1h0M1072.1 4398.2h0M1098.2 4404h0M1110.4 4403.5h0M1124.7 4398.7h0M1138.2 4401.6h0M1149.1 4400.1h0M1163.7 4394.5h0M1176.1 4396.2h0M1035.5 4414.6h0M1047.2 4414.9h0M1059.7 4412.9h0M1074.1 4412.4h0M1096.9 4412.9h0M1124.2 4413h0M1134.8 4415.1h0M1147.7 4415.4h0M1160.1 4411.5h0M1172.9 4415.1h0M1039.3 4419h0M1053.2 4419.7h0M1063.6 4423.2h0M1091.8 4424h0M1101.6 4424.4h0M1114.3 4421.2h0M1127.3 4424.2h0M1140.8 4420.3h0M1153.3 4418.5h0M1166.9 4419.1h0M1045.2 4436.2h0M1056.8 4434.8h0M1071.7 4436h0M1084.2 4432.7h0M1108.6 4433.2h0M1123.6 4432.7h0M1133.7 4437.3h0M1147.2 4435h0M1160.8 4437.1h0M1071.3 4445.4h0M1081.8 4446.9h0M1092.9 4447.6h0M1106.2 4448.2h0M1116.5 4444.1h0M1130.2 4448h0M1140.5 4447.3h0M1080.7 4456.2h0M1093.8 4455.4h0M1106.8 4457.4h0M1117.6 4454.6h0M1131.5 4456.9h0M1085.6 4468.3h0M1098.7 4469.5h0M1112 4465.6h0M1124.4 4468.6h0M1088.3 4480.7h0M1096.3 4478h0M1106.4 4480.5h0M1116.2 4478.7h0M1085.9 4490.5h0M1095.6 4488.6h0M1118.5 4492.3h0M1078.2 4500.7h0M1090.4 4499.7h0M1100.5 4499.5h0M1112.3 4500.7h0M1121.9 4501.5h0M1132.9 4498.3h0M1085.2 4510.8h0M1096.1 4510.9h0M1108.7 4510.5h0M1121.3 4509.9h0M1094.1 4521.9h0M1106.7 4521.2h0M1116.6 4523.7h0M1090 4532.5h0M1101.3 4535.2h0M1113.1 4535.4h0" stroke="#007f00" stroke-width="15.6" stroke-linecap="round" fill="none"/>
<path d="M1431.2 3767.1h0M1428 3874.4h0M1434.7 3883.4h0M1431.2 3908.2h0M1431.2 3934h0M1428.9 3950.1h0M1436.3 3945.2h0M1433.8 3963h0M1464.4 4503.9h0M1443.4 4518.4h0M1435.1 3969.7h0M1423.8 3979.1h0M1430.5 3975.8h0M1438.1 3978.9h0M1420.8 3986.4h0M1431.1 3983.6h0M1441.7 3984.6h0M1416.1 3992.4h0M1426.1 3993.7h0M1435 3993.7h0M1444.8 3992.8h0M1421.9 4002.7h0M1432.3 4001h0M1444.3 4000.2h0M1417 4008h0M1425.2 4008.2h0M1435 4008.3h0M1443.7 4010.2h0M1416.6 4018.4h0M1427.8 4015.5h0M1437.8 4015.6h0M1449.2 4015.7h0M1415.1 4024.4h0M1426.3 4024.5h0M1437.2 4027.2h0M1448.4 4025.3h0M1409.8 4034h0M1421.6 4033.4h0M1432.5 4034.7h0M1443 4034.3h0M1453.7 4032.5h0M1409.7 4041.4h0M1422.2 4042.3h0M1431.7 4040.6h0M1444 4040.4h0M1454.7 4040.5h0M1410.6 4049.2h0M1419.7 4048.1h0M1432.5 4049.4h0M1452.2 4050.4h0M1409.8 4058.6h0M1421.5 4059h0M1432.4 4059.4h0M1443.4 4058.9h0M1452.6 4056.5h0M1405.8 4067.3h0M1418.6 4064.7h0M1429.4 4064.6h0M1442.5 4065h0M1454.7 4065.7h0M1404.1 4074.7h0M1416.1 4074.4h0M1425.1 4072.7h0M1435.5 4075.1h0M1447.8 4071.9h0M1458.2 4074.5h0M1403.3 4083.3h0M1415.6 4082.8h0M1426.5 4080.1h0M1435.7 4082h0M1446.1 4082.8h0M1458.1 4084.2h0M1395.3 4092.2h0M1406.7 4090.6h0M1420.9 4088h0M1444.1 4089.6h0M1455.9 4089.5h0M1469.3 4091.9h0M1383.6 4093.6h0M1395.7 4097.6h0M1406.4 4095.8h0M1419.7 4097.9h0M1431.2 4098.5h0M1444.3 4096.7h0M1454.9 4095.8h0M1467.8 4097.7h0M1480.5 4093.6h0M1366.4 4104.6h0M1379.2 4104.1h0M1388.4 4106.5h0M1400.2 4104.8h0M1413.9 4104.1h0M1425 4104.9h0M1435.6 4105.3h0M1447.3 4103.4h0M1459.4 4106.8h0M1468.7 4104.1h0M1481.7 4105.6h0M1369.1 4118.4h0M1379.3 4115.4h0M1393.1 4113.4h0M1403.3 4112.3h0M1415.5 4115h0M1424.8 4111.9h0M1438.4 4113.9h0M1447.4 4113.1h0M1460.7 4116h0M1471 4114.5h0M1482.4 4113.5h0M1494.3 4118.1h0M1372.9 4116.9h0M1396.8 4119.5h0M1410.6 4122.9h0M1421.2 4122.3h0M1434.7 4120.9h0M1447.2 4122.1h0M1459 4121.3h0M1470.5 4120.1h0M1483.2 4118.6h0M1495.1 4118.3h0M1370.8 4129.1h0M1393.3 4129.8h0M1405.5 4131.4h0M1418.2 4131.3h0M1428.8 4130.3h0M1442.2 4129.1h0M1453.6 4128.8h0M1466.1 4131.8h0M1476.7 4129.9h0M1488.2 4130.7h0M1373.8 4139.6h0M1385.1 4141.4h0M1397.9 4137.7h0M1409.2 4137.8h0M1418.7 4136.4h0M1431.5 4138.1h0M1444.6 4136.8h0M1454.6 4137h0M1467.7 4139.4h0M1478.7 4138.8h0M1489.9 4142h0M1369.7 4141h0M1382.8 4142h0M1395.6 4142.8h0M1406.8 4145.5h0M1419.3 4147h0M1432.3 4146.3h0M1444.6 4145.2h0M1457.1 4143.6h0M1467.2 4144.5h0M1480.1 4142.2h0M1492.7 4141.8h0M1371.8 4153.6h0M1382.9 4155.7h0M1395 4153h0M1407.1 4152.5h0M1420.7 4151.6h0M1431.5 4151.9h0M1443.2 4153.4h0M1456.8 4155.3h0M1466.9 4152.6h0M1479.7 4155.9h0M1491.5 4153.4h0M1371.8 4164.3h0M1384.4 4165.6h0M1395 4164.4h0M1407.3 4161.7h0M1417.2 4163h0M1430.3 4159.7h0M1441 4161.7h0M1453.1 4160h0M1463.6 4162.4h0M1475.1 4162.6h0M1487.3 4165.1h0M1371.1 4173.8h0M1384 4172.7h0M1395.7 4171.2h0M1405.6 4169.1h0M1418.1 4168h0M1430.4 4167.5h0M1452.7 4168.6h0M1464.5 4171.7h0M1476.2 4170.3h0M1487.5 4175.1h0M1365.3 4173.8h0M1377.9 4175.9h0M1389.2 4173.6h0M1400.5 4176.1h0M1411.8 4176.5h0M1422.8 4178.7h0M1435.8 4178.9h0M1448.9 4175.5h0M1458.6 4177.9h0M1471.5 4176h0M1483.7 4172.7h0M1494.4 4172.3h0M1359.3 4185.6h0M1371 4185.2h0M1382.7 4186.7h0M1394.3 4184.4h0M1418.9 4186.3h0M1430.5 4185.4h0M1442.1 4183.6h0M1454.7 4187.3h0M1468.5 4186.2h0M1479.7 4185h0M1491.7 4184.6h0M1503.3 4184.8h0M1361.9 4192.7h0M1372.9 4195.4h0M1385.8 4194.4h0M1395 4194.4h0M1408.8 4193.2h0M1418.9 4194.5h0M1430 4192.2h0M1441.4 4193.2h0M1466.8 4193h0M1476 4192h0M1487.9 4193.6h0M1500.1 4196.5h0M1370.7 4203.3h0M1384 4204.1h0M1397 4203.7h0M1407.4 4202.2h0M1419.3 4203.4h0M1434 4201.5h0M1444.3 4202.7h0M1457.2 4201h0M1470.1 4201.2h0M1481.8 4202.2h0M1495.5 4203.2h0M1372.1 4212h0M1383.9 4210.7h0M1396.1 4208.5h0M1408.5 4211.5h0M1421.5 4208.3h0M1433.2 4209h0M1444.5 4209.1h0M1455.6 4208.7h0M1467.6 4209h0M1480.7 4212.9h0M1493.3 4212.6h0M1378.9 4219.7h0M1389.4 4217.1h0M1403.4 4217.7h0M1413.8 4216.7h0M1425.7 4216.7h0M1437.8 4217.1h0M1449.2 4216.1h0M1463.7 4218.2h0M1486.5 4218h0M1386.8 4222.8h0M1397.9 4225h0M1411 4225.1h0M1423.1 4223.4h0M1436.8 4224h0M1448.3 4225.8h0M1461.6 4225.5h0M1473.1 4223.1h0M1370.6 4235.6h0M1381.7 4233.2h0M1393.5 4232.4h0M1405.9 4234.6h0M1419.6 4233.4h0M1430.6 4231.6h0M1442.5 4232.7h0M1455.8 4233.4h0M1467.6 4233.9h0M1480.2 4232.7h0M1491.4 4233.9h0M1350.2 4233.1h0M1363.2 4235.9h0M1373.3 4238.2h0M1385.2 4238.5h0M1408.8 4240.6h0M1422.1 4241.6h0M1432.3 4242.4h0M1458.2 4242.5h0M1469 4238.6h0M1481.8 4238.9h0M1490.9 4237.1h0M1502.9 4235.5h0M1516 4232.1h0M1337 4259.1h0M1348.5 4255.9h0M1362.5 4252.3h0M1385.5 4251.8h0M1396.1 4251.7h0M1410.3 4249.8h0M1421.8 4248.1h0M1433.4 4251.2h0M1445.6 4247.6h0M1458.1 4248.2h0M1469.7 4251h0M1481.8 4252.3h0M1495.7 4251.2h0M1507.5 4255.8h0M1519.3 4257.4h0M1530.9 4257.8h0M1332.7 4248.5h0M1346 4250.4h0M1356.4 4253.7h0M1368.5 4252.6h0M1379.9 4257.2h0M1392.5 4257.7h0M1405.4 4258.6h0M1415.2 4259.1h0M1427.1 4258.7h0M1440.9 4256.9h0M1450.5 4258.7h0M1463 4255.9h0M1475.4 4257.5h0M1488.7 4254.9h0M1500 4255.5h0M1510.5 4254.4h0M1523.3 4252.8h0M1534.9 4248.6h0M1331.3 4272.1h0M1342.6 4270.4h0M1353.8 4269.8h0M1365.8 4268.2h0M1378 4266.3h0M1390 4265.7h0M1403.6 4267.5h0M1415.3 4267.4h0M1426.2 4264.1h0M1438.1 4267.2h0M1450.9 4266.4h0M1462.8 4267.4h0M1474.2 4268h0M1484.5 4266.9h0M1495.9 4269.2h0M1509 4268.2h0M1521.4 4271.1h0M1532.2 4273h0M1331.8 4280.3h0M1342.9 4279h0M1356.7 4276.8h0M1369 4278.1h0M1382.5 4276.6h0M1392.7 4275.9h0M1417.9 4274.9h0M1430.9 4273.2h0M1443.6 4272.3h0M1456.8 4273.3h0M1467.5 4274.6h0M1479.4 4274.8h0M1492.5 4274.8h0M1506.4 4279.2h0M1519 4279.4h0M1530 4282.4h0M1340.2 4282.8h0M1352 4284.3h0M1364.5 4284.4h0M1376.4 4280.9h0M1388.9 4283.4h0M1400.8 4282.4h0M1415 4281.6h0M1425.3 4282.1h0M1437.8 4283h0M1450.6 4282.6h0M1462.8 4280.8h0M1476.6 4282.4h0M1487.3 4280.7h0M1499.7 4283.4h0M1513.4 4285.5h0M1524.8 4283h0M1342.2 4283.2h0M1353.8 4285.2h0M1366.9 4286.1h0M1378.8 4285.6h0M1390.9 4288.8h0M1401.9 4290.7h0M1414 4289.3h0M1424.8 4289.8h0M1436.8 4289.4h0M1450.1 4290.4h0M1463 4288.1h0M1473.3 4287.1h0M1486.6 4289.2h0M1496.9 4286.5h0M1508 4286h0M1521.1 4285.6h0M1340.5 4297.2h0M1351.7 4296.8h0M1363 4295.8h0M1377.4 4297.4h0M1387.7 4296.8h0M1401.2 4296.4h0M1412.2 4299.3h0M1435.2 4297.9h0M1448.7 4298.2h0M1459.7 4298h0M1472.8 4298h0M1484.8 4296.3h0M1497 4297.3h0M1507 4296.7h0M1519.7 4299.2h0M1349.6 4312.5h0M1362.4 4309.7h0M1373.3 4308.4h0M1383.8 4309.5h0M1396.9 4306.6h0M1408.1 4305.5h0M1431.4 4305.4h0M1443.8 4306h0M1457.1 4305.4h0M1467.8 4304.9h0M1479 4308.9h0M1491.1 4307.7h0M1502.6 4312h0M1515 4311.5h0M1354.3 4317h0M1365.8 4315.9h0M1377.5 4315.2h0M1402.6 4313.4h0M1415.1 4314.5h0M1427.6 4315.1h0M1438.6 4311.5h0M1450.5 4314.7h0M1462.8 4314.3h0M1473.7 4315.7h0M1486 4315h0M1499.5 4315.6h0M1511.3 4318.6h0M1353.5 4315.5h0M1365.2 4318.1h0M1378.6 4320.1h0M1392.3 4319.2h0M1401.8 4319.5h0M1414.7 4321.8h0M1428 4323.2h0M1440.1 4321.9h0M1452.7 4320.8h0M1464.8 4318.8h0M1477.8 4320.8h0M1489.9 4320.2h0M1503.8 4316.6h0M1515.3 4315.3h0M1349.8 4333h0M1362.4 4329.5h0M1373.8 4332.2h0M1385.3 4331.1h0M1397.9 4331.6h0M1409.6 4330.6h0M1419.9 4329.7h0M1432.4 4328.1h0M1442.8 4330.9h0M1456.9 4329.5h0M1467.7 4328.3h0M1489.8 4330.1h0M1503.2 4331.4h0M1514.5 4332.3h0M1352 4341.8h0M1365.4 4339.4h0M1388.8 4337.3h0M1399.9 4339.6h0M1413.3 4337.9h0M1425.2 4335.7h0M1439.1 4338.3h0M1451 4335.9h0M1461.2 4336.7h0M1474 4338.9h0M1487.2 4341.1h0M1499.9 4341.1h0M1511 4343.2h0M1357 4342.4h0M1368.7 4342.7h0M1382.6 4344.3h0M1394.7 4346.7h0M1405.7 4344.1h0M1420.2 4344.2h0M1444.1 4344.3h0M1456.2 4345.3h0M1469 4346.7h0M1481.8 4343.6h0M1491.5 4342.8h0M1505.3 4343.2h0M1365.7 4352.9h0M1378.9 4352.2h0M1389.1 4353.8h0M1401.4 4352h0M1414.1 4352.2h0M1428.6 4354h0M1438.9 4354.9h0M1452 4353.9h0M1465.5 4350.9h0M1475.4 4353.9h0M1489 4350.9h0M1379.4 4361.4h0M1392.5 4359.7h0M1402.6 4360.2h0M1416.3 4360.9h0M1428 4360.5h0M1441.4 4362.9h0M1454.3 4360.3h0M1465.9 4362h0M1477.7 4359.2h0M1371 4371.8h0M1383 4370.6h0M1421.1 4370.7h0M1433.2 4368.6h0M1445.6 4369.5h0M1455.9 4369.7h0M1469.3 4372.8h0M1481.6 4373.4h0M1367.5 4376.7h0M1378.6 4377.8h0M1393.5 4377.1h0M1404.1 4378.8h0M1416.1 4378.2h0M1430.4 4376.1h0M1442.8 4379h0M1453.6 4379.2h0M1467.3 4377.2h0M1479 4376.7h0M1491.9 4378.1h0M1359.6 4386.3h0M1370.6 4387.3h0M1383.7 4387.5h0M1394 4384.2h0M1405.9 4386.3h0M1418.3 4385.3h0M1429.9 4385.1h0M1441.1 4384.1h0M1454.3 4387h0M1466.8 4387.3h0M1476.2 4385.6h0M1490 4386.2h0M1501.3 4388.1h0M1347.5 4386.8h0M1358.9 4388.5h0M1372.1 4390.8h0M1383.3 4391.9h0M1395.4 4392.3h0M1407.2 4394.2h0M1420.2 4393.5h0M1455.9 4391.4h0M1468.4 4392.5h0M1479.7 4389h0M1490.4 4388.9h0M1502.6 4385.6h0M1515.2 4386h0M1338.1 4398.1h0M1351.4 4398.3h0M1363.4 4399.5h0M1374.2 4399.4h0M1385.9 4400.6h0M1397.4 4399.1h0M1408.8 4403h0M1421.7 4402.6h0M1432.9 4399.7h0M1446 4401.7h0M1456.9 4402.4h0M1468.9 4400.6h0M1480.3 4401.4h0M1505 4400.8h0M1516.2 4397.8h0M1529.3 4397.9h0M1344.3 4409.3h0M1354.9 4408.2h0M1367.6 4408.3h0M1379.8 4408.2h0M1393.5 4408.5h0M1404.7 4408.6h0M1415.4 4408.9h0M1428.9 4408h0M1440.4 4409.7h0M1453 4410.9h0M1463.3 4409.5h0M1475.3 4408.3h0M1486.8 4407.7h0M1498.8 4410h0M1510.5 4410.6h0M1523.5 4409.2h0M1358.5 4418.7h0M1370 4416.3h0M1382.9 4419.2h0M1393.3 4417h0M1405.4 4416.7h0M1417.1 4417.1h0M1428.6 4417h0M1441.3 4416h0M1452.6 4417.6h0M1465.9 4416.5h0M1478.3 4415.7h0M1488.3 4419h0M1501.9 4416.5h0M1513 4416.3h0M1364.9 4431.8h0M1376.7 4428.8h0M1389.6 4426.2h0M1403.5 4425.9h0M1416.3 4426.8h0M1428.7 4427.4h0M1439.7 4426.8h0M1451.7 4427.4h0M1465.7 4427.6h0M1476.2 4427.6h0M1502.3 4430.7h0M1371 4428.7h0M1381.9 4429.5h0M1394.5 4431.8h0M1408.2 4433h0M1419.6 4434.9h0M1433.3 4432.4h0M1442.8 4434.9h0M1455.9 4434.2h0M1468.8 4433.2h0M1480.8 4431.7h0M1493 4431.4h0M1376.2 4444.2h0M1388.7 4444.8h0M1398.9 4441h0M1413.3 4440.4h0M1423.5 4441.9h0M1436.8 4442.8h0M1448 4441.2h0M1470.7 4442.2h0M1484.1 4443.6h0M1386.3 4448.8h0M1397.4 4447.4h0M1408.1 4449.9h0M1420.8 4450.2h0M1432.3 4448.2h0M1442.6 4450.7h0M1454.2 4450.2h0M1467.2 4446.7h0M1478 4448.6h0M1379.9 4458.7h0M1392 4458.1h0M1401.7 4456.6h0M1413.1 4457.8h0M1424.9 4456.9h0M1434.1 4455.6h0M1447.4 4458.9h0M1458.2 4456.7h0M1470.2 4457.9h0M1479.9 4457.4h0M1380.3 4466.2h0M1392.9 4464.4h0M1405.2 4465.2h0M1416.3 4464.8h0M1426.8 4465.3h0M1438.8 4463.5h0M1452.2 4467.1h0M1463 4464.2h0M1474.1 4464h0M1486.2 4466.8h0M1387 4474.2h0M1399.6 4472.3h0M1408.8 4473.5h0M1423.2 4471.6h0M1433.4 4472.3h0M1444.2 4474.8h0M1456.7 4472.9h0M1479.6 4474.8h0M1397.4 4482.6h0M1407.7 4482.8h0M1418.8 4480.6h0M1431.9 4480.1h0M1442 4481.2h0M1453.5 4480.2h0M1463.8 4480.9h0M1474.4 4479.7h0M1398.4 4489.1h0M1411.7 4490h0M1421.9 4491.1h0M1435.1 4488.8h0M1445.5 4491h0M1459.1 4488.1h0M1470.4 4486.3h0M1400.7 4499h0M1412 4497.5h0M1421.6 4499.3h0M1434.5 4498.2h0M1443.5 4499h0M1453.6 4496.2h0M1465.7 4495.8h0M1407.2 4504.7h0M1420.1 4504h0M1431.2 4506.2h0M1440.6 4504.9h0M1453.6 4506.5h0M1416 4511.9h0M1425.4 4511.5h0M1436.6 4514.6h0M1444.8 4514.6h0" stroke="#0000bf" stroke-width="15.6" stroke-linecap="round" fill="none"/>
<path d="M343.6 830.2H560.4" stroke="#000" stroke-width="7.6"/>
<path d="M670.6 775.6H887.4" stroke="#000" stroke-width="7.6"/>
<path d="M997.3 713H1214.1" stroke="#000" stroke-width="7.6"/>
<path d="M1323.6 746H1540.4" stroke="#000" stroke-width="7.6"/>
<path d="M343.6 2407.5H560.4" stroke="#000" stroke-width="7.6"/>
<path d="M670.6 2407.4H887.4" stroke="#000" stroke-width="7.6"/>
<path d="M997.3 2381H1214.1" stroke="#000" stroke-width="7.6"/>
<path d="M1323.6 2358.4H1540.4" stroke="#000" stroke-width="7.6"/>
<path d="M343.6 4395.1H560.4" stroke="#000" stroke-width="7.6"/>
<path d="M670.6 4385.7H887.4" stroke="#000" stroke-width="7.6"/>
<path d="M997.3 4266.6H1214.1" stroke="#000" stroke-width="7.6"/>
<path d="M1323.6 4268.9H1540.4" stroke="#000" stroke-width="7.6"/>
<path d="M234.6 328.1V1274.6M452 1272.7V1298.7M779 1272.7V1298.7M1105.7 1272.7V1298.7M1432 1272.7V1298.7" stroke="#000" stroke-width="4.3" fill="none"/>
<path d="M232.4 1272.7H1649.6M208.7 330H234.6M208.7 565.7H234.6M208.7 801.4H234.6M208.7 1037H234.6M208.7 1272.7H234.6" stroke="#000" stroke-width="3.8" fill="none"/>
<path d="M451 72.4V101.6M1428.5 72.4V101.6M451 150.2V179.4M1102.1 150.2V179.4M779.5 317.4V346.6M1102.1 317.4V346.6M451.3 387.5V416.7M774.5 387.5V416.7M1103.7 392.3V421.5M1426.7 392.3V421.5" stroke="#000" stroke-width="4.3" stroke-linecap="round" fill="none"/>
<path d="M451 87.0H1428.5M451 164.8H1102.1M779.5 332H1102.1M451.3 402.1H774.5M1103.7 406.9H1426.7" stroke="#000" stroke-width="3.8" fill="none"/>
<path d="M234.6 1970.9V2917.1M452 2915.2V2941.2M779 2915.2V2941.2M1105.7 2915.2V2941.2M1432 2915.2V2941.2" stroke="#000" stroke-width="4.3" fill="none"/>
<path d="M232.4 2915.2H1649.6M208.7 1972.8H234.6M208.7 2208.4H234.6M208.7 2444H234.6M208.7 2679.6H234.6M208.7 2915.2H234.6" stroke="#000" stroke-width="3.8" fill="none"/>
<path d="M450.5 1795.9V1825.1M1427.7 1795.9V1825.1M451 1868.2V1897.4M1101.9 1868.2V1897.4M777.2 1954.9V1984.1M1427.7 1954.9V1984.1M779.1 2046V2075.2M1102.2 2046V2075.2M1103.8 2099.6V2128.8M1426.9 2099.6V2128.8" stroke="#000" stroke-width="4.3" stroke-linecap="round" fill="none"/>
<path d="M450.5 1810.5H1427.7M451 1882.8H1101.9M777.2 1969.5H1427.7M779.1 2060.6H1102.2M1103.8 2114.2H1426.9" stroke="#000" stroke-width="3.8" fill="none"/>
<path d="M234.6 3612.3V4558.3M452 4556.4V4582.4M779 4556.4V4582.4M1105.7 4556.4V4582.4M1432 4556.4V4582.4" stroke="#000" stroke-width="4.3" fill="none"/>
<path d="M232.4 4556.4H1649.6M208.7 3614.2H234.6M208.7 3928.3H234.6M208.7 4242.3H234.6M208.7 4556.4H234.6" stroke="#000" stroke-width="3.8" fill="none"/>
<path d="M452 3444.5V3473.7M1429.2 3444.5V3473.7M451.5 3526.6V3555.8M1103 3526.6V3555.8M777.9 3608.5V3637.7M1428.6 3608.5V3637.7M779.4 3689.4V3718.6M1102.3 3689.4V3718.6M448.2 3748.7V3777.9M771.2 3748.7V3777.9" stroke="#000" stroke-width="4.3" stroke-linecap="round" fill="none"/>
<path d="M452 3459.1H1429.2M451.5 3541.2H1103M777.9 3623.1H1428.6M779.4 3704H1102.3M448.2 3763.3H771.2" stroke="#000" stroke-width="3.8" fill="none"/>
<g font-family="'Liberation Sans', Arial, Helvetica, sans-serif" font-weight="bold" fill="#000" stroke="#000" stroke-width="1.0" stroke-linejoin="round">
<text transform="translate(205.6 350.2) scale(0.962 1.025)" text-anchor="end" font-size="60">800</text>
<text transform="translate(205.6 585.9) scale(0.962 1.025)" text-anchor="end" font-size="60">600</text>
<text transform="translate(205.6 821.6) scale(0.962 1.025)" text-anchor="end" font-size="60">400</text>
<text transform="translate(205.6 1057.2) scale(0.962 1.025)" text-anchor="end" font-size="60">200</text>
<text transform="translate(205.6 1292.9) scale(0.962 1.025)" text-anchor="end" font-size="60">0</text>
<text transform="translate(205.6 1993) scale(0.962 1.025)" text-anchor="end" font-size="60">80</text>
<text transform="translate(205.6 2228.6) scale(0.962 1.025)" text-anchor="end" font-size="60">60</text>
<text transform="translate(205.6 2464.2) scale(0.962 1.025)" text-anchor="end" font-size="60">40</text>
<text transform="translate(205.6 2699.8) scale(0.962 1.025)" text-anchor="end" font-size="60">20</text>
<text transform="translate(205.6 2935.4) scale(0.962 1.025)" text-anchor="end" font-size="60">0</text>
<text transform="translate(205.6 3634.4) scale(0.962 1.025)" text-anchor="end" font-size="60">15</text>
<text transform="translate(205.6 3948.5) scale(0.962 1.025)" text-anchor="end" font-size="60">10</text>
<text transform="translate(205.6 4262.5) scale(0.962 1.025)" text-anchor="end" font-size="60">5</text>
<text transform="translate(205.6 4576.6) scale(0.962 1.025)" text-anchor="end" font-size="60">0</text>
<text transform="translate(205.5 108.9) scale(0.986 1.014)" font-size="66" fill="#1a1a1a" stroke="#1a1a1a">a.</text>
<text transform="translate(212.3 1725.4) scale(0.923 0.95)" font-size="66" fill="#1a1a1a" stroke="#1a1a1a">b.</text>
<text transform="translate(199.6 3374.2) scale(0.969 1.028)" font-size="66" fill="#1a1a1a" stroke="#1a1a1a">c.</text>
<text transform="translate(940.8 76.5) scale(0.939 1)" text-anchor="middle" font-family="DejaVu Sans" font-size="62" letter-spacing="2.35" stroke="#000" stroke-width="2.5" stroke-linejoin="miter">****</text>
<text transform="translate(777.5 154.3) scale(0.939 1)" text-anchor="middle" font-family="DejaVu Sans" font-size="62" letter-spacing="2.35" stroke="#000" stroke-width="2.5" stroke-linejoin="miter">****</text>
<text transform="translate(941.8 321.5) scale(0.939 1)" text-anchor="middle" font-family="DejaVu Sans" font-size="62" letter-spacing="2.35" stroke="#000" stroke-width="2.5" stroke-linejoin="miter">****</text>
<text transform="translate(613.9 391.6) scale(0.939 1)" text-anchor="middle" font-family="DejaVu Sans" font-size="62" letter-spacing="2.35" stroke="#000" stroke-width="2.5" stroke-linejoin="miter">****</text>
<text transform="translate(1266.2 396.4) scale(0.939 1)" text-anchor="middle" font-family="DejaVu Sans" font-size="62" letter-spacing="2.35" stroke="#000" stroke-width="2.5" stroke-linejoin="miter">****</text>
<text transform="translate(940.1 1800) scale(0.939 1)" text-anchor="middle" font-family="DejaVu Sans" font-size="62" letter-spacing="2.35" stroke="#000" stroke-width="2.5" stroke-linejoin="miter">****</text>
<text transform="translate(777.5 1872.3) scale(0.939 1)" text-anchor="middle" font-family="DejaVu Sans" font-size="62" letter-spacing="2.35" stroke="#000" stroke-width="2.5" stroke-linejoin="miter">****</text>
<text transform="translate(1103.5 1959) scale(0.939 1)" text-anchor="middle" font-family="DejaVu Sans" font-size="62" letter-spacing="2.35" stroke="#000" stroke-width="2.5" stroke-linejoin="miter">****</text>
<text transform="translate(941.7 2050.1) scale(0.939 1)" text-anchor="middle" font-family="DejaVu Sans" font-size="62" letter-spacing="2.35" stroke="#000" stroke-width="2.5" stroke-linejoin="miter">****</text>
<text transform="translate(1266.3 2103.7) scale(0.939 1)" text-anchor="middle" font-family="DejaVu Sans" font-size="62" letter-spacing="2.35" stroke="#000" stroke-width="2.5" stroke-linejoin="miter">****</text>
<text transform="translate(941.6 3448.6) scale(0.939 1)" text-anchor="middle" font-family="DejaVu Sans" font-size="62" letter-spacing="2.35" stroke="#000" stroke-width="2.5" stroke-linejoin="miter">****</text>
<text transform="translate(778.2 3530.7) scale(0.939 1)" text-anchor="middle" font-family="DejaVu Sans" font-size="62" letter-spacing="2.35" stroke="#000" stroke-width="2.5" stroke-linejoin="miter">****</text>
<text transform="translate(1104.2 3612.6) scale(0.939 1)" text-anchor="middle" font-family="DejaVu Sans" font-size="62" letter-spacing="2.35" stroke="#000" stroke-width="2.5" stroke-linejoin="miter">****</text>
<text transform="translate(941.8 3693.5) scale(0.939 1)" text-anchor="middle" font-family="DejaVu Sans" font-size="62" letter-spacing="2.35" stroke="#000" stroke-width="2.5" stroke-linejoin="miter">****</text>
<text transform="translate(610.7 3752.8) scale(0.939 1)" text-anchor="middle" font-family="DejaVu Sans" font-size="62" letter-spacing="2.35" stroke="#000" stroke-width="2.5" stroke-linejoin="miter">*</text>
</g>
<g font-family="'Liberation Sans', Arial, Helvetica, sans-serif" font-weight="bold" fill="#000" stroke="#000" stroke-width="1.0" stroke-linejoin="round">
<text transform="translate(65.2 964.1) rotate(-90) scale(0.6086 0.6565)" font-size="100">Height (nm)</text>
<text transform="translate(98.6 2593.8) rotate(-90) scale(0.6145 0.664)" font-size="100">Area (<tspan font-family="'Liberation Serif', 'DejaVu Serif', serif" font-weight="normal" stroke-width="0.6">µ</tspan>m<tspan font-size="75" dy="-34">2</tspan><tspan dy="34">)</tspan></text>
<text transform="translate(95.5 4274.6) rotate(-90) scale(0.6138 0.661)" font-size="100">Volume (<tspan font-family="'Liberation Serif', 'DejaVu Serif', serif" font-weight="normal" stroke-width="0.6">µ</tspan>m<tspan font-size="75" dy="-34">3</tspan><tspan dy="34">)</tspan></text>
<text transform="translate(465.5 1339.2) rotate(-45) scale(0.97 1.0)" text-anchor="end" font-size="60" stroke-width="0.3">iRBC + DPG</text>
<text transform="translate(792.5 1339.2) rotate(-45) scale(0.97 1.0)" text-anchor="end" font-size="60" stroke-width="0.3">iRBC untreated</text>
<text transform="translate(1119.2 1339.2) rotate(-45) scale(0.97 1.0)" text-anchor="end" font-size="60" stroke-width="0.3">niRBC + DPG</text>
<text transform="translate(1445.5 1339.2) rotate(-45) scale(0.97 1.0)" text-anchor="end" font-size="60" stroke-width="0.3">niRBC untreated</text>
<text transform="translate(465.5 2981.7) rotate(-45) scale(0.97 1.0)" text-anchor="end" font-size="60" stroke-width="0.3">iRBC + DPG</text>
<text transform="translate(792.5 2981.7) rotate(-45) scale(0.97 1.0)" text-anchor="end" font-size="60" stroke-width="0.3">iRBC untreated</text>
<text transform="translate(1119.2 2981.7) rotate(-45) scale(0.97 1.0)" text-anchor="end" font-size="60" stroke-width="0.3">niRBC + DPG</text>
<text transform="translate(1445.5 2981.7) rotate(-45) scale(0.97 1.0)" text-anchor="end" font-size="60" stroke-width="0.3">niRBC untreated</text>
<text transform="translate(465.5 4622.9) rotate(-45) scale(0.97 1.0)" text-anchor="end" font-size="60" stroke-width="0.3">iRBC + DPG</text>
<text transform="translate(792.5 4622.9) rotate(-45) scale(0.97 1.0)" text-anchor="end" font-size="60" stroke-width="0.3">iRBC untreated</text>
<text transform="translate(1119.2 4622.9) rotate(-45) scale(0.97 1.0)" text-anchor="end" font-size="60" stroke-width="0.3">niRBC + DPG</text>
<text transform="translate(1445.5 4622.9) rotate(-45) scale(0.97 1.0)" text-anchor="end" font-size="60" stroke-width="0.3">niRBC untreated</text>
</g>
</svg></body></html>
